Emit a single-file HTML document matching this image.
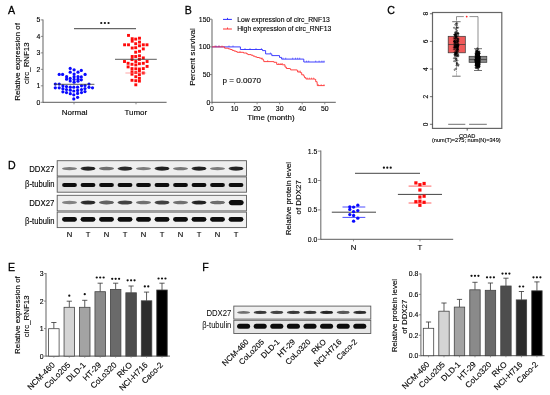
<!DOCTYPE html>
<html><head><meta charset="utf-8"><style>
html,body{margin:0;padding:0;background:#fff;}
svg{display:block;font-family:"Liberation Sans", sans-serif;filter:blur(0.3px);}
</style></head><body>
<svg width="550" height="395" viewBox="0 0 550 395">
<rect width="550" height="395" fill="#fff"/>
<text x="0" y="0" font-size="11.8" fill="#000" stroke="#000" stroke-width="0.3" transform="translate(8.0,13.9) scale(0.9,1)">A</text>
<text x="0" y="0" font-size="11.8" fill="#000" stroke="#000" stroke-width="0.3" transform="translate(184.8,13.9) scale(0.9,1)">B</text>
<text x="0" y="0" font-size="11.8" fill="#000" stroke="#000" stroke-width="0.3" transform="translate(387.3,14.1) scale(0.9,1)">C</text>
<text x="0" y="0" font-size="11.8" fill="#000" stroke="#000" stroke-width="0.3" transform="translate(8.1,168.7) scale(0.9,1)">D</text>
<text x="0" y="0" font-size="11.8" fill="#000" stroke="#000" stroke-width="0.3" transform="translate(8.1,270.7) scale(0.9,1)">E</text>
<text x="0" y="0" font-size="11.8" fill="#000" stroke="#000" stroke-width="0.3" transform="translate(202.3,270.9) scale(0.9,1)">F</text>
<line x1="43.00" y1="19.40" x2="43.00" y2="102.80" stroke="#707070" stroke-width="1.1" />
<line x1="43.00" y1="102.30" x2="166.60" y2="102.30" stroke="#4a4a4a" stroke-width="0.9" />
<line x1="40.80" y1="102.30" x2="43.00" y2="102.30" stroke="#707070" stroke-width="0.8" />
<text x="40.40" y="104.70" font-size="6.9" text-anchor="end" fill="#000" stroke="#000" stroke-width="0.12" >0</text>
<line x1="40.80" y1="85.82" x2="43.00" y2="85.82" stroke="#707070" stroke-width="0.8" />
<text x="40.40" y="88.22" font-size="6.9" text-anchor="end" fill="#000" stroke="#000" stroke-width="0.12" >1</text>
<line x1="40.80" y1="69.34" x2="43.00" y2="69.34" stroke="#707070" stroke-width="0.8" />
<text x="40.40" y="71.74" font-size="6.9" text-anchor="end" fill="#000" stroke="#000" stroke-width="0.12" >2</text>
<line x1="40.80" y1="52.86" x2="43.00" y2="52.86" stroke="#707070" stroke-width="0.8" />
<text x="40.40" y="55.26" font-size="6.9" text-anchor="end" fill="#000" stroke="#000" stroke-width="0.12" >3</text>
<line x1="40.80" y1="36.38" x2="43.00" y2="36.38" stroke="#707070" stroke-width="0.8" />
<text x="40.40" y="38.78" font-size="6.9" text-anchor="end" fill="#000" stroke="#000" stroke-width="0.12" >4</text>
<line x1="40.80" y1="19.90" x2="43.00" y2="19.90" stroke="#707070" stroke-width="0.8" />
<text x="40.40" y="22.30" font-size="6.9" text-anchor="end" fill="#000" stroke="#000" stroke-width="0.12" >5</text>
<line x1="74.00" y1="102.30" x2="74.00" y2="104.30" stroke="#707070" stroke-width="0.8" />
<line x1="136.00" y1="102.30" x2="136.00" y2="104.30" stroke="#707070" stroke-width="0.8" />
<text x="74.60" y="114.90" font-size="8" text-anchor="middle" fill="#000" stroke="#000" stroke-width="0.12" >Normal</text>
<text x="135.80" y="114.90" font-size="8" text-anchor="middle" fill="#000" stroke="#000" stroke-width="0.12" >Tumor</text>
<text x="0" y="0" font-size="7.9" text-anchor="middle" fill="#000" stroke="#000" stroke-width="0.12" transform="translate(19.70,62.00) rotate(-90)">Relative expression of</text>
<text x="0" y="0" font-size="7.9" text-anchor="middle" fill="#000" stroke="#000" stroke-width="0.12" transform="translate(28.90,63.20) rotate(-90)">circ_RNF13</text>
<line x1="74.00" y1="28.70" x2="136.00" y2="28.70" stroke="#3a3a3a" stroke-width="0.95" />
<circle cx="101.25" cy="23.00" r="1.12" fill="#111" />
<circle cx="104.90" cy="23.00" r="1.12" fill="#111" />
<circle cx="108.55" cy="23.00" r="1.12" fill="#111" />
<circle cx="70.20" cy="68.40" r="1.6" fill="#0a0aff" />
<circle cx="74.10" cy="69.80" r="1.6" fill="#0a0aff" />
<circle cx="81.30" cy="70.40" r="1.6" fill="#0a0aff" />
<circle cx="70.20" cy="72.20" r="1.6" fill="#0a0aff" />
<circle cx="78.00" cy="72.20" r="1.6" fill="#0a0aff" />
<circle cx="74.10" cy="74.10" r="1.6" fill="#0a0aff" />
<circle cx="59.20" cy="74.40" r="1.6" fill="#0a0aff" />
<circle cx="62.60" cy="74.40" r="1.6" fill="#0a0aff" />
<circle cx="85.10" cy="74.40" r="1.6" fill="#0a0aff" />
<circle cx="66.60" cy="76.70" r="1.6" fill="#0a0aff" />
<circle cx="74.10" cy="76.70" r="1.6" fill="#0a0aff" />
<circle cx="78.00" cy="76.70" r="1.6" fill="#0a0aff" />
<circle cx="81.30" cy="76.90" r="1.6" fill="#0a0aff" />
<circle cx="66.60" cy="79.20" r="1.6" fill="#0a0aff" />
<circle cx="70.20" cy="78.40" r="1.6" fill="#0a0aff" />
<circle cx="74.10" cy="79.40" r="1.6" fill="#0a0aff" />
<circle cx="78.00" cy="79.20" r="1.6" fill="#0a0aff" />
<circle cx="81.30" cy="79.80" r="1.6" fill="#0a0aff" />
<circle cx="70.20" cy="81.00" r="1.6" fill="#0a0aff" />
<circle cx="78.00" cy="81.20" r="1.6" fill="#0a0aff" />
<circle cx="74.10" cy="82.20" r="1.6" fill="#0a0aff" />
<circle cx="55.30" cy="84.10" r="1.6" fill="#0a0aff" />
<circle cx="55.30" cy="87.80" r="1.6" fill="#0a0aff" />
<circle cx="59.20" cy="84.10" r="1.6" fill="#0a0aff" />
<circle cx="59.20" cy="87.80" r="1.6" fill="#0a0aff" />
<circle cx="89.00" cy="84.10" r="1.6" fill="#0a0aff" />
<circle cx="89.00" cy="87.30" r="1.6" fill="#0a0aff" />
<circle cx="92.50" cy="87.80" r="1.6" fill="#0a0aff" />
<circle cx="62.90" cy="85.80" r="1.6" fill="#0a0aff" />
<circle cx="62.90" cy="88.70" r="1.6" fill="#0a0aff" />
<circle cx="62.90" cy="91.80" r="1.6" fill="#0a0aff" />
<circle cx="66.50" cy="86.60" r="1.6" fill="#0a0aff" />
<circle cx="66.50" cy="89.50" r="1.6" fill="#0a0aff" />
<circle cx="66.50" cy="92.60" r="1.6" fill="#0a0aff" />
<circle cx="70.30" cy="87.20" r="1.6" fill="#0a0aff" />
<circle cx="70.30" cy="90.20" r="1.6" fill="#0a0aff" />
<circle cx="70.30" cy="93.70" r="1.6" fill="#0a0aff" />
<circle cx="73.80" cy="87.20" r="1.6" fill="#0a0aff" />
<circle cx="73.80" cy="91.00" r="1.6" fill="#0a0aff" />
<circle cx="73.80" cy="94.80" r="1.6" fill="#0a0aff" />
<circle cx="73.80" cy="98.90" r="1.6" fill="#0a0aff" />
<circle cx="77.60" cy="87.20" r="1.6" fill="#0a0aff" />
<circle cx="77.60" cy="90.40" r="1.6" fill="#0a0aff" />
<circle cx="77.60" cy="93.40" r="1.6" fill="#0a0aff" />
<circle cx="77.60" cy="97.30" r="1.6" fill="#0a0aff" />
<circle cx="81.50" cy="85.80" r="1.6" fill="#0a0aff" />
<circle cx="81.50" cy="89.60" r="1.6" fill="#0a0aff" />
<circle cx="81.50" cy="92.60" r="1.6" fill="#0a0aff" />
<circle cx="85.00" cy="85.50" r="1.6" fill="#0a0aff" />
<circle cx="85.00" cy="88.60" r="1.6" fill="#0a0aff" />
<circle cx="85.00" cy="91.60" r="1.6" fill="#0a0aff" />
<line x1="54.00" y1="84.30" x2="94.40" y2="84.30" stroke="#333" stroke-width="0.8" />
<rect x="127.05" y="33.95" width="2.90" height="2.90" fill="#ff0a0a" stroke="none" stroke-width="0.8" />
<rect x="130.75" y="37.25" width="2.90" height="2.90" fill="#ff0a0a" stroke="none" stroke-width="0.8" />
<rect x="134.25" y="37.65" width="2.90" height="2.90" fill="#ff0a0a" stroke="none" stroke-width="0.8" />
<rect x="138.05" y="36.75" width="2.90" height="2.90" fill="#ff0a0a" stroke="none" stroke-width="0.8" />
<rect x="130.75" y="39.75" width="2.90" height="2.90" fill="#ff0a0a" stroke="none" stroke-width="0.8" />
<rect x="138.05" y="40.65" width="2.90" height="2.90" fill="#ff0a0a" stroke="none" stroke-width="0.8" />
<rect x="123.15" y="43.35" width="2.90" height="2.90" fill="#ff0a0a" stroke="none" stroke-width="0.8" />
<rect x="127.05" y="43.35" width="2.90" height="2.90" fill="#ff0a0a" stroke="none" stroke-width="0.8" />
<rect x="134.25" y="42.25" width="2.90" height="2.90" fill="#ff0a0a" stroke="none" stroke-width="0.8" />
<rect x="138.05" y="44.35" width="2.90" height="2.90" fill="#ff0a0a" stroke="none" stroke-width="0.8" />
<rect x="141.85" y="43.35" width="2.90" height="2.90" fill="#ff0a0a" stroke="none" stroke-width="0.8" />
<rect x="145.55" y="43.35" width="2.90" height="2.90" fill="#ff0a0a" stroke="none" stroke-width="0.8" />
<rect x="130.75" y="46.55" width="2.90" height="2.90" fill="#ff0a0a" stroke="none" stroke-width="0.8" />
<rect x="134.25" y="46.25" width="2.90" height="2.90" fill="#ff0a0a" stroke="none" stroke-width="0.8" />
<rect x="141.85" y="47.45" width="2.90" height="2.90" fill="#ff0a0a" stroke="none" stroke-width="0.8" />
<rect x="134.25" y="50.75" width="2.90" height="2.90" fill="#ff0a0a" stroke="none" stroke-width="0.8" />
<rect x="138.05" y="49.85" width="2.90" height="2.90" fill="#ff0a0a" stroke="none" stroke-width="0.8" />
<rect x="130.75" y="55.05" width="2.90" height="2.90" fill="#ff0a0a" stroke="none" stroke-width="0.8" />
<rect x="134.25" y="55.05" width="2.90" height="2.90" fill="#ff0a0a" stroke="none" stroke-width="0.8" />
<rect x="138.05" y="54.35" width="2.90" height="2.90" fill="#ff0a0a" stroke="none" stroke-width="0.8" />
<rect x="141.85" y="56.45" width="2.90" height="2.90" fill="#ff0a0a" stroke="none" stroke-width="0.8" />
<rect x="130.55" y="58.15" width="2.90" height="2.90" fill="#ff0a0a" stroke="none" stroke-width="0.8" />
<rect x="137.95" y="57.95" width="2.90" height="2.90" fill="#ff0a0a" stroke="none" stroke-width="0.8" />
<rect x="123.05" y="60.05" width="2.90" height="2.90" fill="#ff0a0a" stroke="none" stroke-width="0.8" />
<rect x="134.35" y="60.05" width="2.90" height="2.90" fill="#ff0a0a" stroke="none" stroke-width="0.8" />
<rect x="145.65" y="60.05" width="2.90" height="2.90" fill="#ff0a0a" stroke="none" stroke-width="0.8" />
<rect x="126.65" y="61.85" width="2.90" height="2.90" fill="#ff0a0a" stroke="none" stroke-width="0.8" />
<rect x="137.95" y="62.25" width="2.90" height="2.90" fill="#ff0a0a" stroke="none" stroke-width="0.8" />
<rect x="141.85" y="61.85" width="2.90" height="2.90" fill="#ff0a0a" stroke="none" stroke-width="0.8" />
<rect x="130.55" y="62.85" width="2.90" height="2.90" fill="#ff0a0a" stroke="none" stroke-width="0.8" />
<rect x="134.35" y="63.45" width="2.90" height="2.90" fill="#ff0a0a" stroke="none" stroke-width="0.8" />
<rect x="126.65" y="65.45" width="2.90" height="2.90" fill="#ff0a0a" stroke="none" stroke-width="0.8" />
<rect x="145.65" y="64.95" width="2.90" height="2.90" fill="#ff0a0a" stroke="none" stroke-width="0.8" />
<rect x="130.55" y="67.15" width="2.90" height="2.90" fill="#ff0a0a" stroke="none" stroke-width="0.8" />
<rect x="134.35" y="67.35" width="2.90" height="2.90" fill="#ff0a0a" stroke="none" stroke-width="0.8" />
<rect x="137.95" y="67.55" width="2.90" height="2.90" fill="#ff0a0a" stroke="none" stroke-width="0.8" />
<rect x="141.85" y="67.15" width="2.90" height="2.90" fill="#ff0a0a" stroke="none" stroke-width="0.8" />
<rect x="130.55" y="70.35" width="2.90" height="2.90" fill="#ff0a0a" stroke="none" stroke-width="0.8" />
<rect x="134.35" y="71.15" width="2.90" height="2.90" fill="#ff0a0a" stroke="none" stroke-width="0.8" />
<rect x="137.95" y="69.55" width="2.90" height="2.90" fill="#ff0a0a" stroke="none" stroke-width="0.8" />
<rect x="141.85" y="71.55" width="2.90" height="2.90" fill="#ff0a0a" stroke="none" stroke-width="0.8" />
<rect x="130.55" y="72.75" width="2.90" height="2.90" fill="#ff0a0a" stroke="none" stroke-width="0.8" />
<rect x="137.95" y="73.15" width="2.90" height="2.90" fill="#ff0a0a" stroke="none" stroke-width="0.8" />
<rect x="134.35" y="75.25" width="2.90" height="2.90" fill="#ff0a0a" stroke="none" stroke-width="0.8" />
<rect x="137.95" y="76.85" width="2.90" height="2.90" fill="#ff0a0a" stroke="none" stroke-width="0.8" />
<rect x="130.55" y="78.85" width="2.90" height="2.90" fill="#ff0a0a" stroke="none" stroke-width="0.8" />
<rect x="134.35" y="79.25" width="2.90" height="2.90" fill="#ff0a0a" stroke="none" stroke-width="0.8" />
<rect x="137.95" y="79.65" width="2.90" height="2.90" fill="#ff0a0a" stroke="none" stroke-width="0.8" />
<rect x="134.35" y="83.35" width="2.90" height="2.90" fill="#ff0a0a" stroke="none" stroke-width="0.8" />
<line x1="115.00" y1="59.30" x2="156.80" y2="59.30" stroke="#333" stroke-width="0.8" />
<line x1="125.40" y1="73.00" x2="146.20" y2="73.00" stroke="#ff8080" stroke-width="0.7" />
<line x1="212.00" y1="19.20" x2="212.00" y2="102.80" stroke="#707070" stroke-width="1.1" />
<line x1="212.00" y1="102.30" x2="335.80" y2="102.30" stroke="#4a4a4a" stroke-width="0.9" />
<line x1="209.80" y1="102.30" x2="212.00" y2="102.30" stroke="#707070" stroke-width="0.8" />
<text x="210.30" y="104.70" font-size="6.9" text-anchor="end" fill="#000" stroke="#000" stroke-width="0.12" >0</text>
<line x1="209.80" y1="74.60" x2="212.00" y2="74.60" stroke="#707070" stroke-width="0.8" />
<text x="210.30" y="77.00" font-size="6.9" text-anchor="end" fill="#000" stroke="#000" stroke-width="0.12" >50</text>
<line x1="209.80" y1="46.90" x2="212.00" y2="46.90" stroke="#707070" stroke-width="0.8" />
<text x="210.30" y="49.30" font-size="6.9" text-anchor="end" fill="#000" stroke="#000" stroke-width="0.12" >100</text>
<line x1="209.80" y1="19.20" x2="212.00" y2="19.20" stroke="#707070" stroke-width="0.8" />
<text x="210.30" y="21.60" font-size="6.9" text-anchor="end" fill="#000" stroke="#000" stroke-width="0.12" >150</text>
<line x1="212.00" y1="102.30" x2="212.00" y2="104.30" stroke="#707070" stroke-width="0.8" />
<text x="212.00" y="110.60" font-size="6.9" text-anchor="middle" fill="#000" stroke="#000" stroke-width="0.12" >0</text>
<line x1="234.55" y1="102.30" x2="234.55" y2="104.30" stroke="#707070" stroke-width="0.8" />
<text x="234.55" y="110.60" font-size="6.9" text-anchor="middle" fill="#000" stroke="#000" stroke-width="0.12" >10</text>
<line x1="257.10" y1="102.30" x2="257.10" y2="104.30" stroke="#707070" stroke-width="0.8" />
<text x="257.10" y="110.60" font-size="6.9" text-anchor="middle" fill="#000" stroke="#000" stroke-width="0.12" >20</text>
<line x1="279.65" y1="102.30" x2="279.65" y2="104.30" stroke="#707070" stroke-width="0.8" />
<text x="279.65" y="110.60" font-size="6.9" text-anchor="middle" fill="#000" stroke="#000" stroke-width="0.12" >30</text>
<line x1="302.20" y1="102.30" x2="302.20" y2="104.30" stroke="#707070" stroke-width="0.8" />
<text x="302.20" y="110.60" font-size="6.9" text-anchor="middle" fill="#000" stroke="#000" stroke-width="0.12" >40</text>
<line x1="324.75" y1="102.30" x2="324.75" y2="104.30" stroke="#707070" stroke-width="0.8" />
<text x="324.75" y="110.60" font-size="6.9" text-anchor="middle" fill="#000" stroke="#000" stroke-width="0.12" >50</text>
<text x="271.00" y="119.50" font-size="8" text-anchor="middle" fill="#000" stroke="#000" stroke-width="0.12" >Time (month)</text>
<text x="0" y="0" font-size="8.1" text-anchor="middle" fill="#000" stroke="#000" stroke-width="0.12" transform="translate(194.90,57.00) rotate(-90)">Percent survival</text>
<line x1="223.00" y1="19.40" x2="231.90" y2="19.40" stroke="#2a2aff" stroke-width="1.0" />
<line x1="227.50" y1="17.90" x2="227.50" y2="19.40" stroke="#2a2aff" stroke-width="0.9" />
<line x1="223.00" y1="29.00" x2="231.90" y2="29.00" stroke="#ff3030" stroke-width="1.0" />
<line x1="227.50" y1="27.50" x2="227.50" y2="29.00" stroke="#ff3030" stroke-width="0.9" />
<text x="237.20" y="21.80" font-size="6.8" text-anchor="start" fill="#000" stroke="#000" stroke-width="0.12" >Low expression of circ_RNF13</text>
<text x="237.20" y="30.50" font-size="6.8" text-anchor="start" fill="#000" stroke="#000" stroke-width="0.12" >High expression of circ_RNF13</text>
<text x="222.60" y="82.80" font-size="8.1" text-anchor="start" fill="#000" stroke="#000" stroke-width="0.12" >p = 0.0070</text>
<path d="M212,46.9 H240.4 V49.5 H262.5 V50.6 H265.6 V53.9 H271.8 V55.6 H279.5 V57.4 H281.6 V59.1 H303.8 V62 H324.7" fill="none" stroke="#2a2aff" stroke-width="0.9"/>
<path d="M212,46.9 H224.6 V48.2 H228.4 V48.9 H230.3 V49.5 H232.2 V50.4 H234.1 V51.1 H236 V51.6 H237.2 V52.3 H243.5 V53 H246.7 V53.9 H248 V54.6 H251.1 V55.2 H253 V56.1 H254.9 V56.8 H256.8 V57.5 H259.4 V58.1 H261.3 V59 H263.2 V60.3 H263.8 V61.6 H273.9 V62.3 H276.7 V64.4 H282.3 V64.8 H285 V67.1 H286.4 V68.5 H289.9 V68.8 H290.6 V69.9 H296.9 V70.3 H297.6 V72 H300.4 V72.7 H301.7 V74.8 H303.8 V76.2 H304.5 V77.6 H305.9 V79 H315 V79.4 H315.7 V81.7 H317.1 V83.8 H317.3 V85.6 H324.7" fill="none" stroke="#ff3030" stroke-width="0.9"/>
<line x1="216.00" y1="45.50" x2="216.00" y2="46.90" stroke="#2a2aff" stroke-width="0.6" />
<line x1="219.00" y1="45.50" x2="219.00" y2="46.90" stroke="#2a2aff" stroke-width="0.6" />
<line x1="229.00" y1="45.50" x2="229.00" y2="46.90" stroke="#2a2aff" stroke-width="0.6" />
<line x1="233.00" y1="45.50" x2="233.00" y2="46.90" stroke="#2a2aff" stroke-width="0.6" />
<line x1="245.00" y1="48.10" x2="245.00" y2="49.50" stroke="#2a2aff" stroke-width="0.6" />
<line x1="250.00" y1="48.10" x2="250.00" y2="49.50" stroke="#2a2aff" stroke-width="0.6" />
<line x1="256.00" y1="48.10" x2="256.00" y2="49.50" stroke="#2a2aff" stroke-width="0.6" />
<line x1="261.40" y1="48.10" x2="261.40" y2="49.50" stroke="#2a2aff" stroke-width="0.6" />
<line x1="270.40" y1="52.50" x2="270.40" y2="53.90" stroke="#2a2aff" stroke-width="0.6" />
<line x1="283.00" y1="57.70" x2="283.00" y2="59.10" stroke="#2a2aff" stroke-width="0.6" />
<line x1="285.70" y1="57.70" x2="285.70" y2="59.10" stroke="#2a2aff" stroke-width="0.6" />
<line x1="292.70" y1="57.70" x2="292.70" y2="59.10" stroke="#2a2aff" stroke-width="0.6" />
<line x1="295.50" y1="57.70" x2="295.50" y2="59.10" stroke="#2a2aff" stroke-width="0.6" />
<line x1="297.60" y1="57.70" x2="297.60" y2="59.10" stroke="#2a2aff" stroke-width="0.6" />
<line x1="299.70" y1="57.70" x2="299.70" y2="59.10" stroke="#2a2aff" stroke-width="0.6" />
<line x1="306.60" y1="60.60" x2="306.60" y2="62.00" stroke="#2a2aff" stroke-width="0.6" />
<line x1="308.70" y1="60.60" x2="308.70" y2="62.00" stroke="#2a2aff" stroke-width="0.6" />
<line x1="315.70" y1="60.60" x2="315.70" y2="62.00" stroke="#2a2aff" stroke-width="0.6" />
<line x1="319.10" y1="60.60" x2="319.10" y2="62.00" stroke="#2a2aff" stroke-width="0.6" />
<line x1="321.90" y1="60.60" x2="321.90" y2="62.00" stroke="#2a2aff" stroke-width="0.6" />
<line x1="324.00" y1="60.60" x2="324.00" y2="62.00" stroke="#2a2aff" stroke-width="0.6" />
<line x1="215.00" y1="45.50" x2="215.00" y2="46.90" stroke="#ff3030" stroke-width="0.6" />
<line x1="219.00" y1="45.50" x2="219.00" y2="46.90" stroke="#ff3030" stroke-width="0.6" />
<line x1="222.00" y1="45.50" x2="222.00" y2="46.90" stroke="#ff3030" stroke-width="0.6" />
<line x1="240.00" y1="50.90" x2="240.00" y2="52.30" stroke="#ff3030" stroke-width="0.6" />
<line x1="262.10" y1="57.60" x2="262.10" y2="59.00" stroke="#ff3030" stroke-width="0.6" />
<line x1="267.70" y1="60.20" x2="267.70" y2="61.60" stroke="#ff3030" stroke-width="0.6" />
<line x1="278.80" y1="63.00" x2="278.80" y2="64.40" stroke="#ff3030" stroke-width="0.6" />
<line x1="280.90" y1="63.00" x2="280.90" y2="64.40" stroke="#ff3030" stroke-width="0.6" />
<line x1="282.30" y1="63.00" x2="282.30" y2="64.40" stroke="#ff3030" stroke-width="0.6" />
<line x1="299.00" y1="70.60" x2="299.00" y2="72.00" stroke="#ff3030" stroke-width="0.6" />
<line x1="300.40" y1="70.60" x2="300.40" y2="72.00" stroke="#ff3030" stroke-width="0.6" />
<line x1="307.30" y1="77.60" x2="307.30" y2="79.00" stroke="#ff3030" stroke-width="0.6" />
<line x1="309.40" y1="77.60" x2="309.40" y2="79.00" stroke="#ff3030" stroke-width="0.6" />
<line x1="311.50" y1="77.60" x2="311.50" y2="79.00" stroke="#ff3030" stroke-width="0.6" />
<line x1="313.60" y1="77.60" x2="313.60" y2="79.00" stroke="#ff3030" stroke-width="0.6" />
<line x1="318.40" y1="84.20" x2="318.40" y2="85.60" stroke="#ff3030" stroke-width="0.6" />
<line x1="321.20" y1="84.20" x2="321.20" y2="85.60" stroke="#ff3030" stroke-width="0.6" />
<line x1="324.00" y1="84.20" x2="324.00" y2="85.60" stroke="#ff3030" stroke-width="0.6" />
<rect x="432.50" y="12.50" width="69.30" height="115.90" fill="none" stroke="#666" stroke-width="1.2" />
<line x1="429.90" y1="124.30" x2="432.50" y2="124.30" stroke="#333" stroke-width="0.7" />
<text x="0" y="0" font-size="6.7" text-anchor="middle" fill="#000" stroke="#000" stroke-width="0.12" transform="translate(427.90,124.30) rotate(-90)">0</text>
<line x1="429.90" y1="96.66" x2="432.50" y2="96.66" stroke="#333" stroke-width="0.7" />
<text x="0" y="0" font-size="6.7" text-anchor="middle" fill="#000" stroke="#000" stroke-width="0.12" transform="translate(427.90,96.66) rotate(-90)">2</text>
<line x1="429.90" y1="69.02" x2="432.50" y2="69.02" stroke="#333" stroke-width="0.7" />
<text x="0" y="0" font-size="6.7" text-anchor="middle" fill="#000" stroke="#000" stroke-width="0.12" transform="translate(427.90,69.02) rotate(-90)">4</text>
<line x1="429.90" y1="41.38" x2="432.50" y2="41.38" stroke="#333" stroke-width="0.7" />
<text x="0" y="0" font-size="6.7" text-anchor="middle" fill="#000" stroke="#000" stroke-width="0.12" transform="translate(427.90,41.38) rotate(-90)">6</text>
<line x1="429.90" y1="13.74" x2="432.50" y2="13.74" stroke="#333" stroke-width="0.7" />
<text x="0" y="0" font-size="6.7" text-anchor="middle" fill="#000" stroke="#000" stroke-width="0.12" transform="translate(427.90,13.74) rotate(-90)">8</text>
<rect x="448.20" y="36.30" width="17.10" height="16.50" fill="#f05a5a" stroke="#333" stroke-width="0.7" />
<line x1="448.20" y1="44.50" x2="465.30" y2="44.50" stroke="#333" stroke-width="0.7" />
<line x1="456.50" y1="21.70" x2="456.50" y2="36.30" stroke="#333" stroke-width="0.5" stroke-dasharray="1,0.8"/>
<line x1="456.50" y1="52.80" x2="456.50" y2="76.20" stroke="#333" stroke-width="0.5" stroke-dasharray="1,0.8"/>
<line x1="452.20" y1="21.70" x2="460.60" y2="21.70" stroke="#333" stroke-width="0.7" />
<line x1="452.20" y1="76.20" x2="460.60" y2="76.20" stroke="#333" stroke-width="0.7" />
<rect x="469.10" y="56.30" width="17.70" height="6.00" fill="#888" stroke="#333" stroke-width="0.7" />
<line x1="469.10" y1="59.50" x2="486.80" y2="59.50" stroke="#333" stroke-width="0.7" />
<line x1="478.00" y1="48.70" x2="478.00" y2="56.30" stroke="#333" stroke-width="0.5" stroke-dasharray="1,0.8"/>
<line x1="478.00" y1="62.30" x2="478.00" y2="70.50" stroke="#333" stroke-width="0.5" stroke-dasharray="1,0.8"/>
<line x1="474.00" y1="48.70" x2="482.00" y2="48.70" stroke="#333" stroke-width="0.7" />
<line x1="474.00" y1="70.50" x2="482.00" y2="70.50" stroke="#333" stroke-width="0.7" />
<circle cx="455.60" cy="43.85" r="0.65" fill="none" stroke="#000" stroke-width="0.5"/>
<circle cx="456.68" cy="31.88" r="0.65" fill="none" stroke="#000" stroke-width="0.5"/>
<circle cx="453.96" cy="47.52" r="0.65" fill="none" stroke="#000" stroke-width="0.5"/>
<circle cx="457.75" cy="47.55" r="0.65" fill="none" stroke="#000" stroke-width="0.5"/>
<circle cx="458.48" cy="45.28" r="0.65" fill="none" stroke="#000" stroke-width="0.5"/>
<circle cx="456.06" cy="37.27" r="0.65" fill="none" stroke="#000" stroke-width="0.5"/>
<circle cx="456.84" cy="38.74" r="0.65" fill="none" stroke="#000" stroke-width="0.5"/>
<circle cx="454.59" cy="54.93" r="0.65" fill="none" stroke="#000" stroke-width="0.5"/>
<circle cx="456.31" cy="58.64" r="0.65" fill="none" stroke="#000" stroke-width="0.5"/>
<circle cx="457.31" cy="60.47" r="0.65" fill="none" stroke="#000" stroke-width="0.5"/>
<circle cx="457.39" cy="46.62" r="0.65" fill="none" stroke="#000" stroke-width="0.5"/>
<circle cx="456.62" cy="48.16" r="0.65" fill="none" stroke="#000" stroke-width="0.5"/>
<circle cx="457.88" cy="45.66" r="0.65" fill="none" stroke="#000" stroke-width="0.5"/>
<circle cx="456.07" cy="42.37" r="0.65" fill="none" stroke="#000" stroke-width="0.5"/>
<circle cx="457.18" cy="48.98" r="0.65" fill="none" stroke="#000" stroke-width="0.5"/>
<circle cx="458.14" cy="65.72" r="0.65" fill="none" stroke="#000" stroke-width="0.5"/>
<circle cx="455.95" cy="59.55" r="0.65" fill="none" stroke="#000" stroke-width="0.5"/>
<circle cx="458.20" cy="33.42" r="0.65" fill="none" stroke="#000" stroke-width="0.5"/>
<circle cx="454.53" cy="41.44" r="0.65" fill="none" stroke="#000" stroke-width="0.5"/>
<circle cx="454.90" cy="48.07" r="0.65" fill="none" stroke="#000" stroke-width="0.5"/>
<circle cx="456.78" cy="34.00" r="0.65" fill="none" stroke="#000" stroke-width="0.5"/>
<circle cx="455.28" cy="47.22" r="0.65" fill="none" stroke="#000" stroke-width="0.5"/>
<circle cx="455.51" cy="55.06" r="0.65" fill="none" stroke="#000" stroke-width="0.5"/>
<circle cx="456.59" cy="45.30" r="0.65" fill="none" stroke="#000" stroke-width="0.5"/>
<circle cx="457.04" cy="64.21" r="0.65" fill="none" stroke="#000" stroke-width="0.5"/>
<circle cx="458.17" cy="56.17" r="0.65" fill="none" stroke="#000" stroke-width="0.5"/>
<circle cx="456.99" cy="25.12" r="0.65" fill="none" stroke="#000" stroke-width="0.5"/>
<circle cx="454.65" cy="69.80" r="0.65" fill="none" stroke="#000" stroke-width="0.5"/>
<circle cx="458.06" cy="27.67" r="0.65" fill="none" stroke="#000" stroke-width="0.5"/>
<circle cx="456.52" cy="65.41" r="0.65" fill="none" stroke="#000" stroke-width="0.5"/>
<circle cx="457.73" cy="46.44" r="0.65" fill="none" stroke="#000" stroke-width="0.5"/>
<circle cx="456.54" cy="51.79" r="0.65" fill="none" stroke="#000" stroke-width="0.5"/>
<circle cx="457.83" cy="45.65" r="0.65" fill="none" stroke="#000" stroke-width="0.5"/>
<circle cx="458.45" cy="41.17" r="0.65" fill="none" stroke="#000" stroke-width="0.5"/>
<circle cx="455.79" cy="29.03" r="0.65" fill="none" stroke="#000" stroke-width="0.5"/>
<circle cx="454.59" cy="35.01" r="0.65" fill="none" stroke="#000" stroke-width="0.5"/>
<circle cx="457.91" cy="49.67" r="0.65" fill="none" stroke="#000" stroke-width="0.5"/>
<circle cx="454.10" cy="27.77" r="0.65" fill="none" stroke="#000" stroke-width="0.5"/>
<circle cx="457.20" cy="47.20" r="0.65" fill="none" stroke="#000" stroke-width="0.5"/>
<circle cx="455.42" cy="46.91" r="0.65" fill="none" stroke="#000" stroke-width="0.5"/>
<circle cx="456.22" cy="23.50" r="0.65" fill="none" stroke="#000" stroke-width="0.5"/>
<circle cx="458.49" cy="64.64" r="0.65" fill="none" stroke="#000" stroke-width="0.5"/>
<circle cx="456.66" cy="46.35" r="0.65" fill="none" stroke="#000" stroke-width="0.5"/>
<circle cx="454.04" cy="40.97" r="0.65" fill="none" stroke="#000" stroke-width="0.5"/>
<circle cx="456.71" cy="41.39" r="0.65" fill="none" stroke="#000" stroke-width="0.5"/>
<circle cx="454.62" cy="34.80" r="0.65" fill="none" stroke="#000" stroke-width="0.5"/>
<circle cx="455.34" cy="24.72" r="0.65" fill="none" stroke="#000" stroke-width="0.5"/>
<circle cx="458.31" cy="39.34" r="0.65" fill="none" stroke="#000" stroke-width="0.5"/>
<circle cx="456.02" cy="36.79" r="0.65" fill="none" stroke="#000" stroke-width="0.5"/>
<circle cx="456.29" cy="50.94" r="0.65" fill="none" stroke="#000" stroke-width="0.5"/>
<circle cx="456.47" cy="53.46" r="0.65" fill="none" stroke="#000" stroke-width="0.5"/>
<circle cx="456.75" cy="55.80" r="0.65" fill="none" stroke="#000" stroke-width="0.5"/>
<circle cx="455.88" cy="33.36" r="0.65" fill="none" stroke="#000" stroke-width="0.5"/>
<circle cx="457.21" cy="49.33" r="0.65" fill="none" stroke="#000" stroke-width="0.5"/>
<circle cx="458.40" cy="44.15" r="0.65" fill="none" stroke="#000" stroke-width="0.5"/>
<circle cx="456.30" cy="36.09" r="0.65" fill="none" stroke="#000" stroke-width="0.5"/>
<circle cx="455.81" cy="46.34" r="0.65" fill="none" stroke="#000" stroke-width="0.5"/>
<circle cx="456.57" cy="45.31" r="0.65" fill="none" stroke="#000" stroke-width="0.5"/>
<circle cx="456.81" cy="30.61" r="0.65" fill="none" stroke="#000" stroke-width="0.5"/>
<circle cx="454.18" cy="43.03" r="0.65" fill="none" stroke="#000" stroke-width="0.5"/>
<circle cx="457.02" cy="52.93" r="0.65" fill="none" stroke="#000" stroke-width="0.5"/>
<circle cx="455.52" cy="53.17" r="0.65" fill="none" stroke="#000" stroke-width="0.5"/>
<circle cx="454.00" cy="49.37" r="0.65" fill="none" stroke="#000" stroke-width="0.5"/>
<circle cx="454.18" cy="61.18" r="0.65" fill="none" stroke="#000" stroke-width="0.5"/>
<circle cx="455.06" cy="56.78" r="0.65" fill="none" stroke="#000" stroke-width="0.5"/>
<circle cx="456.00" cy="68.66" r="0.65" fill="none" stroke="#000" stroke-width="0.5"/>
<circle cx="455.57" cy="52.44" r="0.65" fill="none" stroke="#000" stroke-width="0.5"/>
<circle cx="455.34" cy="49.84" r="0.65" fill="none" stroke="#000" stroke-width="0.5"/>
<circle cx="455.28" cy="54.33" r="0.65" fill="none" stroke="#000" stroke-width="0.5"/>
<circle cx="455.63" cy="34.62" r="0.65" fill="none" stroke="#000" stroke-width="0.5"/>
<circle cx="456.52" cy="44.50" r="0.65" fill="none" stroke="#000" stroke-width="0.5"/>
<circle cx="457.28" cy="47.23" r="0.65" fill="none" stroke="#000" stroke-width="0.5"/>
<circle cx="457.60" cy="47.54" r="0.65" fill="none" stroke="#000" stroke-width="0.5"/>
<circle cx="455.00" cy="38.00" r="0.65" fill="none" stroke="#000" stroke-width="0.5"/>
<circle cx="457.11" cy="40.59" r="0.65" fill="none" stroke="#000" stroke-width="0.5"/>
<circle cx="454.37" cy="34.60" r="0.65" fill="none" stroke="#000" stroke-width="0.5"/>
<circle cx="457.73" cy="48.92" r="0.65" fill="none" stroke="#000" stroke-width="0.5"/>
<circle cx="455.92" cy="36.43" r="0.65" fill="none" stroke="#000" stroke-width="0.5"/>
<circle cx="455.45" cy="40.95" r="0.65" fill="none" stroke="#000" stroke-width="0.5"/>
<circle cx="456.89" cy="49.81" r="0.65" fill="none" stroke="#000" stroke-width="0.5"/>
<circle cx="454.94" cy="36.32" r="0.65" fill="none" stroke="#000" stroke-width="0.5"/>
<circle cx="454.46" cy="52.35" r="0.65" fill="none" stroke="#000" stroke-width="0.5"/>
<circle cx="457.61" cy="51.46" r="0.65" fill="none" stroke="#000" stroke-width="0.5"/>
<circle cx="457.76" cy="46.08" r="0.65" fill="none" stroke="#000" stroke-width="0.5"/>
<circle cx="457.61" cy="41.44" r="0.65" fill="none" stroke="#000" stroke-width="0.5"/>
<circle cx="456.85" cy="37.18" r="0.65" fill="none" stroke="#000" stroke-width="0.5"/>
<circle cx="454.50" cy="41.53" r="0.65" fill="none" stroke="#000" stroke-width="0.5"/>
<circle cx="455.24" cy="53.78" r="0.65" fill="none" stroke="#000" stroke-width="0.5"/>
<circle cx="455.49" cy="42.59" r="0.65" fill="none" stroke="#000" stroke-width="0.5"/>
<circle cx="455.82" cy="52.77" r="0.65" fill="none" stroke="#000" stroke-width="0.5"/>
<circle cx="458.13" cy="54.15" r="0.65" fill="none" stroke="#000" stroke-width="0.5"/>
<circle cx="454.62" cy="39.70" r="0.65" fill="none" stroke="#000" stroke-width="0.5"/>
<circle cx="457.95" cy="44.11" r="0.65" fill="none" stroke="#000" stroke-width="0.5"/>
<circle cx="458.27" cy="33.81" r="0.65" fill="none" stroke="#000" stroke-width="0.5"/>
<circle cx="458.17" cy="45.74" r="0.65" fill="none" stroke="#000" stroke-width="0.5"/>
<circle cx="457.75" cy="41.84" r="0.65" fill="none" stroke="#000" stroke-width="0.5"/>
<circle cx="456.95" cy="27.95" r="0.65" fill="none" stroke="#000" stroke-width="0.5"/>
<circle cx="455.47" cy="53.34" r="0.65" fill="none" stroke="#000" stroke-width="0.5"/>
<circle cx="454.95" cy="45.86" r="0.65" fill="none" stroke="#000" stroke-width="0.5"/>
<circle cx="455.22" cy="32.26" r="0.65" fill="none" stroke="#000" stroke-width="0.5"/>
<circle cx="457.63" cy="39.10" r="0.65" fill="none" stroke="#000" stroke-width="0.5"/>
<circle cx="457.09" cy="23.31" r="0.65" fill="none" stroke="#000" stroke-width="0.5"/>
<circle cx="458.15" cy="38.57" r="0.65" fill="none" stroke="#000" stroke-width="0.5"/>
<circle cx="456.55" cy="27.14" r="0.65" fill="none" stroke="#000" stroke-width="0.5"/>
<circle cx="453.96" cy="58.28" r="0.65" fill="none" stroke="#000" stroke-width="0.5"/>
<circle cx="455.28" cy="45.02" r="0.65" fill="none" stroke="#000" stroke-width="0.5"/>
<circle cx="456.95" cy="51.20" r="0.65" fill="none" stroke="#000" stroke-width="0.5"/>
<circle cx="458.22" cy="55.42" r="0.65" fill="none" stroke="#000" stroke-width="0.5"/>
<circle cx="456.72" cy="46.51" r="0.65" fill="none" stroke="#000" stroke-width="0.5"/>
<circle cx="457.86" cy="49.13" r="0.65" fill="none" stroke="#000" stroke-width="0.5"/>
<circle cx="456.10" cy="38.20" r="0.65" fill="none" stroke="#000" stroke-width="0.5"/>
<circle cx="454.81" cy="42.89" r="0.65" fill="none" stroke="#000" stroke-width="0.5"/>
<circle cx="456.36" cy="54.29" r="0.65" fill="none" stroke="#000" stroke-width="0.5"/>
<circle cx="457.54" cy="42.25" r="0.65" fill="none" stroke="#000" stroke-width="0.5"/>
<circle cx="458.14" cy="50.64" r="0.65" fill="none" stroke="#000" stroke-width="0.5"/>
<circle cx="453.93" cy="38.18" r="0.65" fill="none" stroke="#000" stroke-width="0.5"/>
<circle cx="456.79" cy="62.95" r="0.65" fill="none" stroke="#000" stroke-width="0.5"/>
<circle cx="455.15" cy="42.68" r="0.65" fill="none" stroke="#000" stroke-width="0.5"/>
<circle cx="455.14" cy="47.36" r="0.65" fill="none" stroke="#000" stroke-width="0.5"/>
<circle cx="456.08" cy="55.55" r="0.65" fill="none" stroke="#000" stroke-width="0.5"/>
<circle cx="457.47" cy="46.69" r="0.65" fill="none" stroke="#000" stroke-width="0.5"/>
<circle cx="454.48" cy="41.35" r="0.65" fill="none" stroke="#000" stroke-width="0.5"/>
<circle cx="454.47" cy="44.80" r="0.65" fill="none" stroke="#000" stroke-width="0.5"/>
<circle cx="457.83" cy="33.12" r="0.65" fill="none" stroke="#000" stroke-width="0.5"/>
<circle cx="455.35" cy="34.34" r="0.65" fill="none" stroke="#000" stroke-width="0.5"/>
<circle cx="455.35" cy="38.53" r="0.65" fill="none" stroke="#000" stroke-width="0.5"/>
<circle cx="456.60" cy="53.72" r="0.65" fill="none" stroke="#000" stroke-width="0.5"/>
<circle cx="455.56" cy="32.81" r="0.65" fill="none" stroke="#000" stroke-width="0.5"/>
<circle cx="454.47" cy="41.49" r="0.65" fill="none" stroke="#000" stroke-width="0.5"/>
<circle cx="456.46" cy="36.21" r="0.65" fill="none" stroke="#000" stroke-width="0.5"/>
<circle cx="454.27" cy="46.98" r="0.65" fill="none" stroke="#000" stroke-width="0.5"/>
<circle cx="454.72" cy="54.74" r="0.65" fill="none" stroke="#000" stroke-width="0.5"/>
<circle cx="457.50" cy="54.71" r="0.65" fill="none" stroke="#000" stroke-width="0.5"/>
<circle cx="455.65" cy="34.75" r="0.65" fill="none" stroke="#000" stroke-width="0.5"/>
<circle cx="455.89" cy="40.26" r="0.65" fill="none" stroke="#000" stroke-width="0.5"/>
<circle cx="455.61" cy="58.57" r="0.65" fill="none" stroke="#000" stroke-width="0.5"/>
<circle cx="455.83" cy="60.98" r="0.65" fill="none" stroke="#000" stroke-width="0.5"/>
<circle cx="457.09" cy="44.44" r="0.65" fill="none" stroke="#000" stroke-width="0.5"/>
<circle cx="456.36" cy="52.37" r="0.65" fill="none" stroke="#000" stroke-width="0.5"/>
<circle cx="457.10" cy="42.94" r="0.65" fill="none" stroke="#000" stroke-width="0.5"/>
<circle cx="455.86" cy="35.02" r="0.65" fill="none" stroke="#000" stroke-width="0.5"/>
<circle cx="457.95" cy="40.10" r="0.65" fill="none" stroke="#000" stroke-width="0.5"/>
<circle cx="458.03" cy="35.59" r="0.65" fill="none" stroke="#000" stroke-width="0.5"/>
<circle cx="457.54" cy="48.73" r="0.65" fill="none" stroke="#000" stroke-width="0.5"/>
<circle cx="454.47" cy="45.72" r="0.65" fill="none" stroke="#000" stroke-width="0.5"/>
<circle cx="457.64" cy="33.29" r="0.65" fill="none" stroke="#000" stroke-width="0.5"/>
<circle cx="457.55" cy="56.18" r="0.65" fill="none" stroke="#000" stroke-width="0.5"/>
<circle cx="456.97" cy="63.29" r="0.65" fill="none" stroke="#000" stroke-width="0.5"/>
<circle cx="476.01" cy="59.89" r="0.65" fill="none" stroke="#000" stroke-width="0.55"/>
<circle cx="477.95" cy="64.66" r="0.65" fill="none" stroke="#000" stroke-width="0.55"/>
<circle cx="478.70" cy="57.04" r="0.65" fill="none" stroke="#000" stroke-width="0.55"/>
<circle cx="475.78" cy="59.27" r="0.65" fill="none" stroke="#000" stroke-width="0.55"/>
<circle cx="479.12" cy="57.76" r="0.65" fill="none" stroke="#000" stroke-width="0.55"/>
<circle cx="476.32" cy="58.31" r="0.65" fill="none" stroke="#000" stroke-width="0.55"/>
<circle cx="476.09" cy="51.47" r="0.65" fill="none" stroke="#000" stroke-width="0.55"/>
<circle cx="478.98" cy="58.18" r="0.65" fill="none" stroke="#000" stroke-width="0.55"/>
<circle cx="479.41" cy="62.99" r="0.65" fill="none" stroke="#000" stroke-width="0.55"/>
<circle cx="477.92" cy="66.34" r="0.65" fill="none" stroke="#000" stroke-width="0.55"/>
<circle cx="478.67" cy="59.01" r="0.65" fill="none" stroke="#000" stroke-width="0.55"/>
<circle cx="477.65" cy="60.42" r="0.65" fill="none" stroke="#000" stroke-width="0.55"/>
<circle cx="478.60" cy="59.77" r="0.65" fill="none" stroke="#000" stroke-width="0.55"/>
<circle cx="479.34" cy="61.27" r="0.65" fill="none" stroke="#000" stroke-width="0.55"/>
<circle cx="477.86" cy="55.94" r="0.65" fill="none" stroke="#000" stroke-width="0.55"/>
<circle cx="478.91" cy="57.97" r="0.65" fill="none" stroke="#000" stroke-width="0.55"/>
<circle cx="476.60" cy="59.22" r="0.65" fill="none" stroke="#000" stroke-width="0.55"/>
<circle cx="478.06" cy="56.74" r="0.65" fill="none" stroke="#000" stroke-width="0.55"/>
<circle cx="477.07" cy="59.25" r="0.65" fill="none" stroke="#000" stroke-width="0.55"/>
<circle cx="477.19" cy="63.49" r="0.65" fill="none" stroke="#000" stroke-width="0.55"/>
<circle cx="475.93" cy="61.89" r="0.65" fill="none" stroke="#000" stroke-width="0.55"/>
<circle cx="477.60" cy="55.86" r="0.65" fill="none" stroke="#000" stroke-width="0.55"/>
<circle cx="478.59" cy="55.13" r="0.65" fill="none" stroke="#000" stroke-width="0.55"/>
<circle cx="476.24" cy="60.07" r="0.65" fill="none" stroke="#000" stroke-width="0.55"/>
<circle cx="478.30" cy="61.88" r="0.65" fill="none" stroke="#000" stroke-width="0.55"/>
<circle cx="477.67" cy="65.84" r="0.65" fill="none" stroke="#000" stroke-width="0.55"/>
<circle cx="479.19" cy="65.27" r="0.65" fill="none" stroke="#000" stroke-width="0.55"/>
<circle cx="476.20" cy="58.74" r="0.65" fill="none" stroke="#000" stroke-width="0.55"/>
<circle cx="479.27" cy="53.67" r="0.65" fill="none" stroke="#000" stroke-width="0.55"/>
<circle cx="477.67" cy="55.45" r="0.65" fill="none" stroke="#000" stroke-width="0.55"/>
<circle cx="476.34" cy="65.53" r="0.65" fill="none" stroke="#000" stroke-width="0.55"/>
<circle cx="476.67" cy="57.03" r="0.65" fill="none" stroke="#000" stroke-width="0.55"/>
<circle cx="476.86" cy="57.62" r="0.65" fill="none" stroke="#000" stroke-width="0.55"/>
<circle cx="476.53" cy="54.12" r="0.65" fill="none" stroke="#000" stroke-width="0.55"/>
<circle cx="476.78" cy="63.06" r="0.65" fill="none" stroke="#000" stroke-width="0.55"/>
<circle cx="478.42" cy="68.92" r="0.65" fill="none" stroke="#000" stroke-width="0.55"/>
<circle cx="477.94" cy="66.29" r="0.65" fill="none" stroke="#000" stroke-width="0.55"/>
<circle cx="476.67" cy="55.13" r="0.65" fill="none" stroke="#000" stroke-width="0.55"/>
<circle cx="477.52" cy="59.16" r="0.65" fill="none" stroke="#000" stroke-width="0.55"/>
<circle cx="477.13" cy="58.47" r="0.65" fill="none" stroke="#000" stroke-width="0.55"/>
<circle cx="476.89" cy="57.51" r="0.65" fill="none" stroke="#000" stroke-width="0.55"/>
<circle cx="478.70" cy="55.88" r="0.65" fill="none" stroke="#000" stroke-width="0.55"/>
<circle cx="477.52" cy="51.44" r="0.65" fill="none" stroke="#000" stroke-width="0.55"/>
<circle cx="478.00" cy="49.33" r="0.65" fill="none" stroke="#000" stroke-width="0.55"/>
<circle cx="478.89" cy="67.05" r="0.65" fill="none" stroke="#000" stroke-width="0.55"/>
<circle cx="477.83" cy="57.78" r="0.65" fill="none" stroke="#000" stroke-width="0.55"/>
<circle cx="479.03" cy="65.92" r="0.65" fill="none" stroke="#000" stroke-width="0.55"/>
<circle cx="477.20" cy="58.57" r="0.65" fill="none" stroke="#000" stroke-width="0.55"/>
<circle cx="477.47" cy="60.43" r="0.65" fill="none" stroke="#000" stroke-width="0.55"/>
<circle cx="478.47" cy="58.96" r="0.65" fill="none" stroke="#000" stroke-width="0.55"/>
<circle cx="478.30" cy="56.34" r="0.65" fill="none" stroke="#000" stroke-width="0.55"/>
<circle cx="476.57" cy="51.49" r="0.65" fill="none" stroke="#000" stroke-width="0.55"/>
<circle cx="476.36" cy="61.43" r="0.65" fill="none" stroke="#000" stroke-width="0.55"/>
<circle cx="478.42" cy="59.49" r="0.65" fill="none" stroke="#000" stroke-width="0.55"/>
<circle cx="479.03" cy="56.68" r="0.65" fill="none" stroke="#000" stroke-width="0.55"/>
<circle cx="479.06" cy="56.78" r="0.65" fill="none" stroke="#000" stroke-width="0.55"/>
<circle cx="476.85" cy="61.22" r="0.65" fill="none" stroke="#000" stroke-width="0.55"/>
<circle cx="475.94" cy="65.28" r="0.65" fill="none" stroke="#000" stroke-width="0.55"/>
<circle cx="475.97" cy="56.24" r="0.65" fill="none" stroke="#000" stroke-width="0.55"/>
<circle cx="477.03" cy="57.61" r="0.65" fill="none" stroke="#000" stroke-width="0.55"/>
<circle cx="477.92" cy="62.32" r="0.65" fill="none" stroke="#000" stroke-width="0.55"/>
<circle cx="476.94" cy="59.57" r="0.65" fill="none" stroke="#000" stroke-width="0.55"/>
<circle cx="477.34" cy="59.78" r="0.65" fill="none" stroke="#000" stroke-width="0.55"/>
<circle cx="477.94" cy="62.18" r="0.65" fill="none" stroke="#000" stroke-width="0.55"/>
<circle cx="479.42" cy="59.09" r="0.65" fill="none" stroke="#000" stroke-width="0.55"/>
<circle cx="476.08" cy="63.37" r="0.65" fill="none" stroke="#000" stroke-width="0.55"/>
<circle cx="476.70" cy="56.06" r="0.65" fill="none" stroke="#000" stroke-width="0.55"/>
<circle cx="479.15" cy="60.37" r="0.65" fill="none" stroke="#000" stroke-width="0.55"/>
<circle cx="479.24" cy="61.09" r="0.65" fill="none" stroke="#000" stroke-width="0.55"/>
<circle cx="477.10" cy="51.25" r="0.65" fill="none" stroke="#000" stroke-width="0.55"/>
<circle cx="478.69" cy="53.70" r="0.65" fill="none" stroke="#000" stroke-width="0.55"/>
<circle cx="478.30" cy="59.19" r="0.65" fill="none" stroke="#000" stroke-width="0.55"/>
<circle cx="478.22" cy="62.81" r="0.65" fill="none" stroke="#000" stroke-width="0.55"/>
<circle cx="478.62" cy="58.22" r="0.65" fill="none" stroke="#000" stroke-width="0.55"/>
<circle cx="479.45" cy="62.40" r="0.65" fill="none" stroke="#000" stroke-width="0.55"/>
<circle cx="476.05" cy="61.74" r="0.65" fill="none" stroke="#000" stroke-width="0.55"/>
<circle cx="477.58" cy="63.89" r="0.65" fill="none" stroke="#000" stroke-width="0.55"/>
<circle cx="478.31" cy="63.30" r="0.65" fill="none" stroke="#000" stroke-width="0.55"/>
<circle cx="477.87" cy="54.06" r="0.65" fill="none" stroke="#000" stroke-width="0.55"/>
<circle cx="478.12" cy="56.87" r="0.65" fill="none" stroke="#000" stroke-width="0.55"/>
<circle cx="476.32" cy="53.91" r="0.65" fill="none" stroke="#000" stroke-width="0.55"/>
<circle cx="476.09" cy="54.69" r="0.65" fill="none" stroke="#000" stroke-width="0.55"/>
<circle cx="479.33" cy="63.21" r="0.65" fill="none" stroke="#000" stroke-width="0.55"/>
<circle cx="478.48" cy="57.00" r="0.65" fill="none" stroke="#000" stroke-width="0.55"/>
<circle cx="477.99" cy="56.46" r="0.65" fill="none" stroke="#000" stroke-width="0.55"/>
<circle cx="477.43" cy="64.98" r="0.65" fill="none" stroke="#000" stroke-width="0.55"/>
<circle cx="476.85" cy="61.37" r="0.65" fill="none" stroke="#000" stroke-width="0.55"/>
<circle cx="478.46" cy="58.65" r="0.65" fill="none" stroke="#000" stroke-width="0.55"/>
<circle cx="478.62" cy="57.95" r="0.65" fill="none" stroke="#000" stroke-width="0.55"/>
<circle cx="477.04" cy="65.90" r="0.65" fill="none" stroke="#000" stroke-width="0.55"/>
<circle cx="476.66" cy="61.17" r="0.65" fill="none" stroke="#000" stroke-width="0.55"/>
<circle cx="475.77" cy="65.60" r="0.65" fill="none" stroke="#000" stroke-width="0.55"/>
<circle cx="477.62" cy="53.72" r="0.65" fill="none" stroke="#000" stroke-width="0.55"/>
<circle cx="477.02" cy="59.22" r="0.65" fill="none" stroke="#000" stroke-width="0.55"/>
<circle cx="476.93" cy="52.25" r="0.65" fill="none" stroke="#000" stroke-width="0.55"/>
<circle cx="478.69" cy="63.60" r="0.65" fill="none" stroke="#000" stroke-width="0.55"/>
<circle cx="477.01" cy="56.39" r="0.65" fill="none" stroke="#000" stroke-width="0.55"/>
<circle cx="476.68" cy="58.19" r="0.65" fill="none" stroke="#000" stroke-width="0.55"/>
<circle cx="476.00" cy="61.00" r="0.65" fill="none" stroke="#000" stroke-width="0.55"/>
<circle cx="478.51" cy="53.87" r="0.65" fill="none" stroke="#000" stroke-width="0.55"/>
<circle cx="476.34" cy="54.66" r="0.65" fill="none" stroke="#000" stroke-width="0.55"/>
<circle cx="478.57" cy="57.74" r="0.65" fill="none" stroke="#000" stroke-width="0.55"/>
<circle cx="478.86" cy="55.35" r="0.65" fill="none" stroke="#000" stroke-width="0.55"/>
<circle cx="476.19" cy="59.39" r="0.65" fill="none" stroke="#000" stroke-width="0.55"/>
<circle cx="477.19" cy="64.90" r="0.65" fill="none" stroke="#000" stroke-width="0.55"/>
<circle cx="477.87" cy="57.59" r="0.65" fill="none" stroke="#000" stroke-width="0.55"/>
<circle cx="476.41" cy="54.58" r="0.65" fill="none" stroke="#000" stroke-width="0.55"/>
<circle cx="475.72" cy="59.35" r="0.65" fill="none" stroke="#000" stroke-width="0.55"/>
<circle cx="478.81" cy="52.11" r="0.65" fill="none" stroke="#000" stroke-width="0.55"/>
<circle cx="477.13" cy="51.50" r="0.65" fill="none" stroke="#000" stroke-width="0.55"/>
<circle cx="477.81" cy="65.74" r="0.65" fill="none" stroke="#000" stroke-width="0.55"/>
<circle cx="479.51" cy="64.44" r="0.65" fill="none" stroke="#000" stroke-width="0.55"/>
<circle cx="478.35" cy="62.27" r="0.65" fill="none" stroke="#000" stroke-width="0.55"/>
<circle cx="477.54" cy="61.86" r="0.65" fill="none" stroke="#000" stroke-width="0.55"/>
<circle cx="478.01" cy="51.52" r="0.65" fill="none" stroke="#000" stroke-width="0.55"/>
<circle cx="478.68" cy="59.39" r="0.65" fill="none" stroke="#000" stroke-width="0.55"/>
<circle cx="478.25" cy="59.63" r="0.65" fill="none" stroke="#000" stroke-width="0.55"/>
<circle cx="477.44" cy="64.39" r="0.65" fill="none" stroke="#000" stroke-width="0.55"/>
<circle cx="476.37" cy="59.09" r="0.65" fill="none" stroke="#000" stroke-width="0.55"/>
<circle cx="477.60" cy="60.47" r="0.65" fill="none" stroke="#000" stroke-width="0.55"/>
<circle cx="478.18" cy="59.56" r="0.65" fill="none" stroke="#000" stroke-width="0.55"/>
<circle cx="479.44" cy="64.38" r="0.65" fill="none" stroke="#000" stroke-width="0.55"/>
<circle cx="479.17" cy="57.51" r="0.65" fill="none" stroke="#000" stroke-width="0.55"/>
<circle cx="478.09" cy="54.50" r="0.65" fill="none" stroke="#000" stroke-width="0.55"/>
<circle cx="475.80" cy="53.81" r="0.65" fill="none" stroke="#000" stroke-width="0.55"/>
<circle cx="475.91" cy="61.27" r="0.65" fill="none" stroke="#000" stroke-width="0.55"/>
<circle cx="477.76" cy="57.02" r="0.65" fill="none" stroke="#000" stroke-width="0.55"/>
<circle cx="479.08" cy="56.03" r="0.65" fill="none" stroke="#000" stroke-width="0.55"/>
<circle cx="478.38" cy="60.91" r="0.65" fill="none" stroke="#000" stroke-width="0.55"/>
<circle cx="478.00" cy="53.90" r="0.65" fill="none" stroke="#000" stroke-width="0.55"/>
<circle cx="479.31" cy="53.22" r="0.65" fill="none" stroke="#000" stroke-width="0.55"/>
<circle cx="476.97" cy="60.79" r="0.65" fill="none" stroke="#000" stroke-width="0.55"/>
<circle cx="478.83" cy="65.99" r="0.65" fill="none" stroke="#000" stroke-width="0.55"/>
<circle cx="477.35" cy="51.85" r="0.65" fill="none" stroke="#000" stroke-width="0.55"/>
<circle cx="478.63" cy="62.77" r="0.65" fill="none" stroke="#000" stroke-width="0.55"/>
<circle cx="475.77" cy="61.33" r="0.65" fill="none" stroke="#000" stroke-width="0.55"/>
<circle cx="475.91" cy="59.16" r="0.65" fill="none" stroke="#000" stroke-width="0.55"/>
<circle cx="477.59" cy="58.59" r="0.65" fill="none" stroke="#000" stroke-width="0.55"/>
<circle cx="478.40" cy="57.01" r="0.65" fill="none" stroke="#000" stroke-width="0.55"/>
<circle cx="478.20" cy="63.57" r="0.65" fill="none" stroke="#000" stroke-width="0.55"/>
<circle cx="476.82" cy="60.36" r="0.65" fill="none" stroke="#000" stroke-width="0.55"/>
<circle cx="477.21" cy="66.15" r="0.65" fill="none" stroke="#000" stroke-width="0.55"/>
<circle cx="476.32" cy="57.80" r="0.65" fill="none" stroke="#000" stroke-width="0.55"/>
<circle cx="477.07" cy="54.01" r="0.65" fill="none" stroke="#000" stroke-width="0.55"/>
<circle cx="477.08" cy="63.25" r="0.65" fill="none" stroke="#000" stroke-width="0.55"/>
<circle cx="476.50" cy="64.84" r="0.65" fill="none" stroke="#000" stroke-width="0.55"/>
<circle cx="475.61" cy="60.37" r="0.65" fill="none" stroke="#000" stroke-width="0.55"/>
<circle cx="476.17" cy="57.50" r="0.65" fill="none" stroke="#000" stroke-width="0.55"/>
<circle cx="477.44" cy="52.34" r="0.65" fill="none" stroke="#000" stroke-width="0.55"/>
<circle cx="476.28" cy="58.39" r="0.65" fill="none" stroke="#000" stroke-width="0.55"/>
<circle cx="477.21" cy="56.67" r="0.65" fill="none" stroke="#000" stroke-width="0.55"/>
<circle cx="476.04" cy="58.87" r="0.65" fill="none" stroke="#000" stroke-width="0.55"/>
<circle cx="476.27" cy="58.49" r="0.65" fill="none" stroke="#000" stroke-width="0.55"/>
<circle cx="475.69" cy="60.80" r="0.65" fill="none" stroke="#000" stroke-width="0.55"/>
<circle cx="477.39" cy="59.26" r="0.65" fill="none" stroke="#000" stroke-width="0.55"/>
<circle cx="475.80" cy="64.75" r="0.65" fill="none" stroke="#000" stroke-width="0.55"/>
<circle cx="477.21" cy="55.81" r="0.65" fill="none" stroke="#000" stroke-width="0.55"/>
<circle cx="479.46" cy="60.11" r="0.65" fill="none" stroke="#000" stroke-width="0.55"/>
<circle cx="476.48" cy="58.76" r="0.65" fill="none" stroke="#000" stroke-width="0.55"/>
<circle cx="476.26" cy="55.44" r="0.65" fill="none" stroke="#000" stroke-width="0.55"/>
<circle cx="478.09" cy="56.72" r="0.65" fill="none" stroke="#000" stroke-width="0.55"/>
<circle cx="475.81" cy="60.56" r="0.65" fill="none" stroke="#000" stroke-width="0.55"/>
<circle cx="478.51" cy="57.59" r="0.65" fill="none" stroke="#000" stroke-width="0.55"/>
<circle cx="477.46" cy="60.49" r="0.65" fill="none" stroke="#000" stroke-width="0.55"/>
<circle cx="479.33" cy="52.14" r="0.65" fill="none" stroke="#000" stroke-width="0.55"/>
<circle cx="476.66" cy="60.33" r="0.65" fill="none" stroke="#000" stroke-width="0.55"/>
<circle cx="478.86" cy="56.36" r="0.65" fill="none" stroke="#000" stroke-width="0.55"/>
<circle cx="475.97" cy="61.97" r="0.65" fill="none" stroke="#000" stroke-width="0.55"/>
<circle cx="478.33" cy="62.11" r="0.65" fill="none" stroke="#000" stroke-width="0.55"/>
<circle cx="475.61" cy="53.90" r="0.65" fill="none" stroke="#000" stroke-width="0.55"/>
<circle cx="475.72" cy="60.41" r="0.65" fill="none" stroke="#000" stroke-width="0.55"/>
<circle cx="475.75" cy="57.21" r="0.65" fill="none" stroke="#000" stroke-width="0.55"/>
<circle cx="475.82" cy="57.98" r="0.65" fill="none" stroke="#000" stroke-width="0.55"/>
<circle cx="476.40" cy="64.38" r="0.65" fill="none" stroke="#000" stroke-width="0.55"/>
<circle cx="479.50" cy="66.69" r="0.65" fill="none" stroke="#000" stroke-width="0.55"/>
<circle cx="479.27" cy="66.75" r="0.65" fill="none" stroke="#000" stroke-width="0.55"/>
<circle cx="479.36" cy="58.26" r="0.65" fill="none" stroke="#000" stroke-width="0.55"/>
<circle cx="478.03" cy="55.89" r="0.65" fill="none" stroke="#000" stroke-width="0.55"/>
<circle cx="479.39" cy="58.59" r="0.65" fill="none" stroke="#000" stroke-width="0.55"/>
<circle cx="479.00" cy="56.40" r="0.65" fill="none" stroke="#000" stroke-width="0.55"/>
<circle cx="476.06" cy="57.54" r="0.65" fill="none" stroke="#000" stroke-width="0.55"/>
<circle cx="478.32" cy="62.23" r="0.65" fill="none" stroke="#000" stroke-width="0.55"/>
<circle cx="479.31" cy="56.96" r="0.65" fill="none" stroke="#000" stroke-width="0.55"/>
<circle cx="478.54" cy="56.24" r="0.65" fill="none" stroke="#000" stroke-width="0.55"/>
<circle cx="478.94" cy="53.29" r="0.65" fill="none" stroke="#000" stroke-width="0.55"/>
<circle cx="477.05" cy="68.22" r="0.65" fill="none" stroke="#000" stroke-width="0.55"/>
<circle cx="477.26" cy="62.44" r="0.65" fill="none" stroke="#000" stroke-width="0.55"/>
<circle cx="477.52" cy="58.42" r="0.65" fill="none" stroke="#000" stroke-width="0.55"/>
<circle cx="476.68" cy="52.20" r="0.65" fill="none" stroke="#000" stroke-width="0.55"/>
<circle cx="478.02" cy="56.15" r="0.65" fill="none" stroke="#000" stroke-width="0.55"/>
<circle cx="478.44" cy="53.55" r="0.65" fill="none" stroke="#000" stroke-width="0.55"/>
<circle cx="476.22" cy="62.98" r="0.65" fill="none" stroke="#000" stroke-width="0.55"/>
<circle cx="478.44" cy="56.22" r="0.65" fill="none" stroke="#000" stroke-width="0.55"/>
<circle cx="478.63" cy="54.74" r="0.65" fill="none" stroke="#000" stroke-width="0.55"/>
<circle cx="478.31" cy="58.68" r="0.65" fill="none" stroke="#000" stroke-width="0.55"/>
<circle cx="478.97" cy="56.85" r="0.65" fill="none" stroke="#000" stroke-width="0.55"/>
<circle cx="478.17" cy="57.60" r="0.65" fill="none" stroke="#000" stroke-width="0.55"/>
<circle cx="477.40" cy="53.27" r="0.65" fill="none" stroke="#000" stroke-width="0.55"/>
<circle cx="479.19" cy="65.16" r="0.65" fill="none" stroke="#000" stroke-width="0.55"/>
<circle cx="477.08" cy="59.75" r="0.65" fill="none" stroke="#000" stroke-width="0.55"/>
<circle cx="475.89" cy="63.06" r="0.65" fill="none" stroke="#000" stroke-width="0.55"/>
<circle cx="476.02" cy="67.69" r="0.65" fill="none" stroke="#000" stroke-width="0.55"/>
<circle cx="477.88" cy="53.23" r="0.65" fill="none" stroke="#000" stroke-width="0.55"/>
<circle cx="478.20" cy="58.03" r="0.65" fill="none" stroke="#000" stroke-width="0.55"/>
<circle cx="476.56" cy="58.26" r="0.65" fill="none" stroke="#000" stroke-width="0.55"/>
<circle cx="478.18" cy="57.07" r="0.65" fill="none" stroke="#000" stroke-width="0.55"/>
<circle cx="477.94" cy="58.63" r="0.65" fill="none" stroke="#000" stroke-width="0.55"/>
<circle cx="479.47" cy="56.36" r="0.65" fill="none" stroke="#000" stroke-width="0.55"/>
<circle cx="476.48" cy="59.13" r="0.65" fill="none" stroke="#000" stroke-width="0.55"/>
<circle cx="478.72" cy="63.34" r="0.65" fill="none" stroke="#000" stroke-width="0.55"/>
<circle cx="478.02" cy="61.00" r="0.65" fill="none" stroke="#000" stroke-width="0.55"/>
<circle cx="476.35" cy="58.11" r="0.65" fill="none" stroke="#000" stroke-width="0.55"/>
<circle cx="476.31" cy="64.33" r="0.65" fill="none" stroke="#000" stroke-width="0.55"/>
<circle cx="476.05" cy="52.54" r="0.65" fill="none" stroke="#000" stroke-width="0.55"/>
<circle cx="475.70" cy="55.65" r="0.65" fill="none" stroke="#000" stroke-width="0.55"/>
<circle cx="479.17" cy="56.64" r="0.65" fill="none" stroke="#000" stroke-width="0.55"/>
<circle cx="475.94" cy="59.92" r="0.65" fill="none" stroke="#000" stroke-width="0.55"/>
<circle cx="478.92" cy="62.22" r="0.65" fill="none" stroke="#000" stroke-width="0.55"/>
<circle cx="478.06" cy="58.71" r="0.65" fill="none" stroke="#000" stroke-width="0.55"/>
<circle cx="479.09" cy="63.76" r="0.65" fill="none" stroke="#000" stroke-width="0.55"/>
<circle cx="476.98" cy="64.80" r="0.65" fill="none" stroke="#000" stroke-width="0.55"/>
<circle cx="476.04" cy="62.94" r="0.65" fill="none" stroke="#000" stroke-width="0.55"/>
<circle cx="478.94" cy="62.06" r="0.65" fill="none" stroke="#000" stroke-width="0.55"/>
<circle cx="476.42" cy="65.66" r="0.65" fill="none" stroke="#000" stroke-width="0.55"/>
<circle cx="477.76" cy="63.60" r="0.65" fill="none" stroke="#000" stroke-width="0.55"/>
<circle cx="475.91" cy="65.87" r="0.65" fill="none" stroke="#000" stroke-width="0.55"/>
<circle cx="476.98" cy="57.85" r="0.65" fill="none" stroke="#000" stroke-width="0.55"/>
<circle cx="477.81" cy="60.94" r="0.65" fill="none" stroke="#000" stroke-width="0.55"/>
<circle cx="478.54" cy="59.19" r="0.65" fill="none" stroke="#000" stroke-width="0.55"/>
<circle cx="478.02" cy="64.65" r="0.65" fill="none" stroke="#000" stroke-width="0.55"/>
<circle cx="476.46" cy="56.55" r="0.65" fill="none" stroke="#000" stroke-width="0.55"/>
<circle cx="476.94" cy="67.44" r="0.65" fill="none" stroke="#000" stroke-width="0.55"/>
<circle cx="477.32" cy="48.29" r="0.65" fill="none" stroke="#000" stroke-width="0.55"/>
<circle cx="476.26" cy="56.84" r="0.65" fill="none" stroke="#000" stroke-width="0.55"/>
<circle cx="479.32" cy="57.88" r="0.65" fill="none" stroke="#000" stroke-width="0.55"/>
<circle cx="479.55" cy="60.60" r="0.65" fill="none" stroke="#000" stroke-width="0.55"/>
<circle cx="478.05" cy="67.70" r="0.65" fill="none" stroke="#000" stroke-width="0.55"/>
<circle cx="477.27" cy="54.68" r="0.65" fill="none" stroke="#000" stroke-width="0.55"/>
<circle cx="479.39" cy="61.49" r="0.65" fill="none" stroke="#000" stroke-width="0.55"/>
<circle cx="477.54" cy="51.03" r="0.65" fill="none" stroke="#000" stroke-width="0.55"/>
<circle cx="478.69" cy="65.14" r="0.65" fill="none" stroke="#000" stroke-width="0.55"/>
<circle cx="479.28" cy="51.48" r="0.65" fill="none" stroke="#000" stroke-width="0.55"/>
<circle cx="476.34" cy="61.87" r="0.65" fill="none" stroke="#000" stroke-width="0.55"/>
<circle cx="475.98" cy="50.01" r="0.65" fill="none" stroke="#000" stroke-width="0.55"/>
<circle cx="477.68" cy="59.94" r="0.65" fill="none" stroke="#000" stroke-width="0.55"/>
<circle cx="478.16" cy="62.76" r="0.65" fill="none" stroke="#000" stroke-width="0.55"/>
<circle cx="476.70" cy="52.71" r="0.65" fill="none" stroke="#000" stroke-width="0.55"/>
<circle cx="477.33" cy="57.62" r="0.65" fill="none" stroke="#000" stroke-width="0.55"/>
<circle cx="478.59" cy="63.18" r="0.65" fill="none" stroke="#000" stroke-width="0.55"/>
<circle cx="476.75" cy="53.70" r="0.65" fill="none" stroke="#000" stroke-width="0.55"/>
<circle cx="477.24" cy="56.56" r="0.65" fill="none" stroke="#000" stroke-width="0.55"/>
<circle cx="475.91" cy="57.23" r="0.65" fill="none" stroke="#000" stroke-width="0.55"/>
<circle cx="478.40" cy="55.33" r="0.65" fill="none" stroke="#000" stroke-width="0.55"/>
<circle cx="479.51" cy="53.57" r="0.65" fill="none" stroke="#000" stroke-width="0.55"/>
<circle cx="477.09" cy="50.94" r="0.65" fill="none" stroke="#000" stroke-width="0.55"/>
<circle cx="476.25" cy="60.43" r="0.65" fill="none" stroke="#000" stroke-width="0.55"/>
<circle cx="477.70" cy="61.10" r="0.65" fill="none" stroke="#000" stroke-width="0.55"/>
<circle cx="477.77" cy="55.07" r="0.65" fill="none" stroke="#000" stroke-width="0.55"/>
<circle cx="476.74" cy="64.51" r="0.65" fill="none" stroke="#000" stroke-width="0.55"/>
<circle cx="477.45" cy="53.08" r="0.65" fill="none" stroke="#000" stroke-width="0.55"/>
<circle cx="476.79" cy="53.65" r="0.65" fill="none" stroke="#000" stroke-width="0.55"/>
<circle cx="476.57" cy="64.26" r="0.65" fill="none" stroke="#000" stroke-width="0.55"/>
<circle cx="476.13" cy="59.14" r="0.65" fill="none" stroke="#000" stroke-width="0.55"/>
<circle cx="477.72" cy="59.90" r="0.65" fill="none" stroke="#000" stroke-width="0.55"/>
<circle cx="475.80" cy="61.78" r="0.65" fill="none" stroke="#000" stroke-width="0.55"/>
<circle cx="476.42" cy="59.90" r="0.65" fill="none" stroke="#000" stroke-width="0.55"/>
<circle cx="479.52" cy="58.76" r="0.65" fill="none" stroke="#000" stroke-width="0.55"/>
<circle cx="478.74" cy="63.95" r="0.65" fill="none" stroke="#000" stroke-width="0.55"/>
<circle cx="476.34" cy="58.25" r="0.65" fill="none" stroke="#000" stroke-width="0.55"/>
<circle cx="475.65" cy="59.49" r="0.65" fill="none" stroke="#000" stroke-width="0.55"/>
<circle cx="475.81" cy="62.78" r="0.65" fill="none" stroke="#000" stroke-width="0.55"/>
<circle cx="477.78" cy="57.79" r="0.65" fill="none" stroke="#000" stroke-width="0.55"/>
<circle cx="476.59" cy="56.37" r="0.65" fill="none" stroke="#000" stroke-width="0.55"/>
<circle cx="478.81" cy="57.35" r="0.65" fill="none" stroke="#000" stroke-width="0.55"/>
<circle cx="475.78" cy="62.15" r="0.65" fill="none" stroke="#000" stroke-width="0.55"/>
<circle cx="477.32" cy="57.76" r="0.65" fill="none" stroke="#000" stroke-width="0.55"/>
<circle cx="479.25" cy="63.67" r="0.65" fill="none" stroke="#000" stroke-width="0.55"/>
<circle cx="478.83" cy="63.81" r="0.65" fill="none" stroke="#000" stroke-width="0.55"/>
<circle cx="478.63" cy="59.31" r="0.65" fill="none" stroke="#000" stroke-width="0.55"/>
<circle cx="478.76" cy="57.11" r="0.65" fill="none" stroke="#000" stroke-width="0.55"/>
<circle cx="477.81" cy="67.15" r="0.65" fill="none" stroke="#000" stroke-width="0.55"/>
<circle cx="476.72" cy="59.78" r="0.65" fill="none" stroke="#000" stroke-width="0.55"/>
<circle cx="478.17" cy="58.97" r="0.65" fill="none" stroke="#000" stroke-width="0.55"/>
<circle cx="479.19" cy="58.68" r="0.65" fill="none" stroke="#000" stroke-width="0.55"/>
<circle cx="478.26" cy="55.48" r="0.65" fill="none" stroke="#000" stroke-width="0.55"/>
<circle cx="479.31" cy="61.93" r="0.65" fill="none" stroke="#000" stroke-width="0.55"/>
<circle cx="477.26" cy="57.14" r="0.65" fill="none" stroke="#000" stroke-width="0.55"/>
<circle cx="477.67" cy="64.53" r="0.65" fill="none" stroke="#000" stroke-width="0.55"/>
<circle cx="478.34" cy="58.09" r="0.65" fill="none" stroke="#000" stroke-width="0.55"/>
<circle cx="479.57" cy="57.03" r="0.65" fill="none" stroke="#000" stroke-width="0.55"/>
<circle cx="477.01" cy="63.41" r="0.65" fill="none" stroke="#000" stroke-width="0.55"/>
<circle cx="477.42" cy="60.58" r="0.65" fill="none" stroke="#000" stroke-width="0.55"/>
<circle cx="479.44" cy="57.86" r="0.65" fill="none" stroke="#000" stroke-width="0.55"/>
<circle cx="476.22" cy="63.65" r="0.65" fill="none" stroke="#000" stroke-width="0.55"/>
<circle cx="477.25" cy="61.34" r="0.65" fill="none" stroke="#000" stroke-width="0.55"/>
<circle cx="479.00" cy="54.72" r="0.65" fill="none" stroke="#000" stroke-width="0.55"/>
<circle cx="478.05" cy="54.85" r="0.65" fill="none" stroke="#000" stroke-width="0.55"/>
<circle cx="475.72" cy="67.82" r="0.65" fill="none" stroke="#000" stroke-width="0.55"/>
<line x1="456.50" y1="16.60" x2="463.80" y2="16.60" stroke="#444" stroke-width="0.6" />
<line x1="469.50" y1="16.60" x2="478.00" y2="16.60" stroke="#444" stroke-width="0.6" />
<line x1="456.50" y1="16.60" x2="456.50" y2="20.60" stroke="#444" stroke-width="0.6" />
<line x1="478.00" y1="16.60" x2="478.00" y2="48.30" stroke="#444" stroke-width="0.6" />
<circle cx="466.70" cy="16.60" r="0.9" fill="#ff2020" />
<line x1="448.20" y1="124.30" x2="465.30" y2="124.30" stroke="#333" stroke-width="0.7" />
<line x1="469.10" y1="124.30" x2="486.80" y2="124.30" stroke="#333" stroke-width="0.7" />
<line x1="467.20" y1="128.40" x2="467.20" y2="130.60" stroke="#4a4a4a" stroke-width="0.9" />
<text x="467.20" y="137.90" font-size="5.7" text-anchor="middle" fill="#000" stroke="#000" stroke-width="0.12" >COAD</text>
<text x="466.30" y="141.70" font-size="5.6" text-anchor="middle" fill="#000" stroke="#000" stroke-width="0.12" >(num(T)=275; num(N)=349)</text>
<defs><filter id="bl" x="-30%" y="-100%" width="160%" height="300%"><feGaussianBlur stdDeviation="0.75"/></filter><filter id="bl2" x="-30%" y="-100%" width="160%" height="300%"><feGaussianBlur stdDeviation="0.55"/></filter></defs>
<rect x="57.20" y="160.70" width="189.30" height="15.30" fill="#eeeeee" stroke="#5a5a5a" stroke-width="0.9" />
<rect x="57.20" y="176.90" width="189.30" height="15.30" fill="#e2e2e2" stroke="#5a5a5a" stroke-width="0.9" />
<rect x="57.20" y="195.30" width="189.30" height="15.60" fill="#efefef" stroke="#5a5a5a" stroke-width="0.9" />
<rect x="57.20" y="212.10" width="189.30" height="15.50" fill="#f2f2f2" stroke="#5a5a5a" stroke-width="0.9" />
<text x="0" y="0" font-size="8.7" text-anchor="end" fill="#000" stroke="#000" stroke-width="0.12" transform="translate(54.40,171.80) scale(0.9,1)">DDX27</text>
<text x="0" y="0" font-size="8.5" text-anchor="end" fill="#000" stroke="#000" stroke-width="0.12" transform="translate(54.60,186.90) scale(0.9,1)">β-tubulin</text>
<text x="0" y="0" font-size="8.7" text-anchor="end" fill="#000" stroke="#000" stroke-width="0.12" transform="translate(54.40,206.00) scale(0.9,1)">DDX27</text>
<text x="0" y="0" font-size="8.5" text-anchor="end" fill="#000" stroke="#000" stroke-width="0.12" transform="translate(54.60,223.50) scale(0.9,1)">β-tubulin</text>
<text x="69.50" y="237.20" font-size="7.6" text-anchor="middle" fill="#000" stroke="#000" stroke-width="0.12" >N</text>
<text x="88.00" y="237.20" font-size="7.6" text-anchor="middle" fill="#000" stroke="#000" stroke-width="0.12" >T</text>
<text x="106.50" y="237.20" font-size="7.6" text-anchor="middle" fill="#000" stroke="#000" stroke-width="0.12" >N</text>
<text x="125.00" y="237.20" font-size="7.6" text-anchor="middle" fill="#000" stroke="#000" stroke-width="0.12" >T</text>
<text x="143.50" y="237.20" font-size="7.6" text-anchor="middle" fill="#000" stroke="#000" stroke-width="0.12" >N</text>
<text x="162.00" y="237.20" font-size="7.6" text-anchor="middle" fill="#000" stroke="#000" stroke-width="0.12" >T</text>
<text x="180.50" y="237.20" font-size="7.6" text-anchor="middle" fill="#000" stroke="#000" stroke-width="0.12" >N</text>
<text x="199.00" y="237.20" font-size="7.6" text-anchor="middle" fill="#000" stroke="#000" stroke-width="0.12" >T</text>
<text x="217.50" y="237.20" font-size="7.6" text-anchor="middle" fill="#000" stroke="#000" stroke-width="0.12" >N</text>
<text x="236.00" y="237.20" font-size="7.6" text-anchor="middle" fill="#000" stroke="#000" stroke-width="0.12" >T</text>
<ellipse cx="69.50" cy="168.60" rx="7.50" ry="1.68" fill="rgb(124,124,124)" filter="url(#bl)"/>
<ellipse cx="69.50" cy="202.50" rx="7.50" ry="1.64" fill="rgb(130,130,130)" filter="url(#bl)"/>
<rect x="62.10" y="183.00" width="14.80" height="4.00" rx="2.00" fill="#0a0a0a" filter="url(#bl2)"/>
<rect x="62.10" y="216.90" width="14.80" height="4.80" rx="2.40" fill="#0a0a0a" filter="url(#bl2)"/>
<ellipse cx="88.00" cy="168.60" rx="7.50" ry="2.12" fill="rgb(56,56,56)" filter="url(#bl)"/>
<rect x="82.95" y="167.08" width="11.70" height="3.04" rx="1.52" fill="rgb(32,32,32)" filter="url(#bl2)"/>
<ellipse cx="88.00" cy="202.50" rx="7.50" ry="2.08" fill="rgb(62,62,62)" filter="url(#bl)"/>
<rect x="82.95" y="201.02" width="11.70" height="2.96" rx="1.48" fill="rgb(43,43,43)" filter="url(#bl2)"/>
<rect x="80.60" y="183.00" width="14.80" height="4.00" rx="2.00" fill="#0a0a0a" filter="url(#bl2)"/>
<rect x="80.60" y="216.90" width="14.80" height="4.80" rx="2.40" fill="#0a0a0a" filter="url(#bl2)"/>
<ellipse cx="106.50" cy="168.60" rx="7.50" ry="1.76" fill="rgb(111,111,111)" filter="url(#bl)"/>
<ellipse cx="106.50" cy="202.50" rx="7.50" ry="1.88" fill="rgb(93,93,93)" filter="url(#bl)"/>
<rect x="101.45" y="201.22" width="11.70" height="2.56" rx="1.28" fill="rgb(100,100,100)" filter="url(#bl2)"/>
<rect x="99.10" y="183.00" width="14.80" height="4.00" rx="2.00" fill="#0a0a0a" filter="url(#bl2)"/>
<rect x="99.10" y="216.90" width="14.80" height="4.80" rx="2.40" fill="#0a0a0a" filter="url(#bl2)"/>
<ellipse cx="125.00" cy="168.60" rx="7.50" ry="2.08" fill="rgb(62,62,62)" filter="url(#bl)"/>
<rect x="119.95" y="167.12" width="11.70" height="2.96" rx="1.48" fill="rgb(43,43,43)" filter="url(#bl2)"/>
<ellipse cx="125.00" cy="202.50" rx="7.50" ry="2.00" fill="rgb(74,74,74)" filter="url(#bl)"/>
<rect x="119.95" y="201.10" width="11.70" height="2.80" rx="1.40" fill="rgb(66,66,66)" filter="url(#bl2)"/>
<rect x="117.60" y="183.00" width="14.80" height="4.00" rx="2.00" fill="#0a0a0a" filter="url(#bl2)"/>
<rect x="117.60" y="216.90" width="14.80" height="4.80" rx="2.40" fill="#0a0a0a" filter="url(#bl2)"/>
<ellipse cx="143.50" cy="168.60" rx="7.50" ry="1.68" fill="rgb(124,124,124)" filter="url(#bl)"/>
<ellipse cx="143.50" cy="202.50" rx="7.50" ry="1.76" fill="rgb(111,111,111)" filter="url(#bl)"/>
<rect x="136.10" y="183.00" width="14.80" height="4.00" rx="2.00" fill="#0a0a0a" filter="url(#bl2)"/>
<rect x="136.10" y="216.90" width="14.80" height="4.80" rx="2.40" fill="#0a0a0a" filter="url(#bl2)"/>
<ellipse cx="162.00" cy="168.60" rx="7.50" ry="2.12" fill="rgb(56,56,56)" filter="url(#bl)"/>
<rect x="156.95" y="167.08" width="11.70" height="3.04" rx="1.52" fill="rgb(32,32,32)" filter="url(#bl2)"/>
<ellipse cx="162.00" cy="202.50" rx="7.50" ry="2.00" fill="rgb(74,74,74)" filter="url(#bl)"/>
<rect x="156.95" y="201.10" width="11.70" height="2.80" rx="1.40" fill="rgb(66,66,66)" filter="url(#bl2)"/>
<rect x="154.60" y="183.00" width="14.80" height="4.00" rx="2.00" fill="#0a0a0a" filter="url(#bl2)"/>
<rect x="154.60" y="216.90" width="14.80" height="4.80" rx="2.40" fill="#0a0a0a" filter="url(#bl2)"/>
<ellipse cx="180.50" cy="168.60" rx="7.50" ry="1.72" fill="rgb(118,118,118)" filter="url(#bl)"/>
<ellipse cx="180.50" cy="202.50" rx="7.50" ry="1.76" fill="rgb(111,111,111)" filter="url(#bl)"/>
<rect x="173.10" y="183.00" width="14.80" height="4.00" rx="2.00" fill="#0a0a0a" filter="url(#bl2)"/>
<rect x="173.10" y="216.90" width="14.80" height="4.80" rx="2.40" fill="#0a0a0a" filter="url(#bl2)"/>
<ellipse cx="199.00" cy="168.60" rx="7.50" ry="2.12" fill="rgb(56,56,56)" filter="url(#bl)"/>
<rect x="193.95" y="167.08" width="11.70" height="3.04" rx="1.52" fill="rgb(32,32,32)" filter="url(#bl2)"/>
<ellipse cx="199.00" cy="202.50" rx="7.50" ry="2.12" fill="rgb(56,56,56)" filter="url(#bl)"/>
<rect x="193.95" y="200.98" width="11.70" height="3.04" rx="1.52" fill="rgb(32,32,32)" filter="url(#bl2)"/>
<rect x="191.60" y="183.00" width="14.80" height="4.00" rx="2.00" fill="#0a0a0a" filter="url(#bl2)"/>
<rect x="191.60" y="216.90" width="14.80" height="4.80" rx="2.40" fill="#0a0a0a" filter="url(#bl2)"/>
<ellipse cx="217.50" cy="168.60" rx="7.50" ry="1.68" fill="rgb(124,124,124)" filter="url(#bl)"/>
<ellipse cx="217.50" cy="202.50" rx="7.50" ry="1.84" fill="rgb(99,99,99)" filter="url(#bl)"/>
<rect x="212.45" y="201.26" width="11.70" height="2.48" rx="1.24" fill="rgb(111,111,111)" filter="url(#bl2)"/>
<rect x="210.10" y="183.00" width="14.80" height="4.00" rx="2.00" fill="#0a0a0a" filter="url(#bl2)"/>
<rect x="210.10" y="216.90" width="14.80" height="4.80" rx="2.40" fill="#0a0a0a" filter="url(#bl2)"/>
<ellipse cx="236.00" cy="168.60" rx="7.50" ry="2.12" fill="rgb(56,56,56)" filter="url(#bl)"/>
<rect x="230.95" y="167.08" width="11.70" height="3.04" rx="1.52" fill="rgb(32,32,32)" filter="url(#bl2)"/>
<ellipse cx="236.00" cy="202.50" rx="7.50" ry="2.20" fill="rgb(43,43,43)" filter="url(#bl)"/>
<rect x="230.95" y="200.90" width="11.70" height="3.20" rx="1.60" fill="rgb(10,10,10)" filter="url(#bl2)"/>
<rect x="229.05" y="199.90" width="14.50" height="5.40" rx="2.70" fill="rgb(10,10,10)" filter="url(#bl2)"/>
<rect x="228.60" y="183.00" width="14.80" height="4.00" rx="2.00" fill="#0a0a0a" filter="url(#bl2)"/>
<rect x="228.60" y="216.90" width="14.80" height="4.80" rx="2.40" fill="#0a0a0a" filter="url(#bl2)"/>
<rect x="233.80" y="306.10" width="137.00" height="13.00" fill="#efefef" stroke="#5a5a5a" stroke-width="0.9" />
<rect x="233.80" y="320.30" width="137.00" height="13.20" fill="#e6e6e6" stroke="#5a5a5a" stroke-width="0.9" />
<text x="0" y="0" font-size="8.6" text-anchor="end" fill="#000"  transform="translate(231.30,315.70) scale(0.9,1)">DDX27</text>
<text x="0" y="0" font-size="8.4" text-anchor="end" fill="#000"  transform="translate(231.30,327.90) scale(0.9,1)">β-tubulin</text>
<ellipse cx="243.60" cy="312.40" rx="6.50" ry="1.41" fill="rgb(111,111,111)" filter="url(#bl)"/>
<rect x="237.10" y="323.80" width="13.00" height="5.00" rx="2.50" fill="#0a0a0a" filter="url(#bl2)"/>
<ellipse cx="260.20" cy="312.40" rx="6.50" ry="1.63" fill="rgb(68,68,68)" filter="url(#bl)"/>
<rect x="255.93" y="311.25" width="10.14" height="2.30" rx="1.15" fill="rgb(55,55,55)" filter="url(#bl2)"/>
<rect x="253.70" y="323.80" width="13.00" height="5.00" rx="2.50" fill="#0a0a0a" filter="url(#bl2)"/>
<ellipse cx="276.80" cy="312.40" rx="6.50" ry="1.60" fill="rgb(74,74,74)" filter="url(#bl)"/>
<rect x="272.53" y="311.28" width="10.14" height="2.24" rx="1.12" fill="rgb(66,66,66)" filter="url(#bl2)"/>
<rect x="270.30" y="323.80" width="13.00" height="5.00" rx="2.50" fill="#0a0a0a" filter="url(#bl2)"/>
<ellipse cx="293.40" cy="312.40" rx="6.50" ry="1.63" fill="rgb(68,68,68)" filter="url(#bl)"/>
<rect x="289.13" y="311.25" width="10.14" height="2.30" rx="1.15" fill="rgb(55,55,55)" filter="url(#bl2)"/>
<rect x="286.90" y="323.80" width="13.00" height="5.00" rx="2.50" fill="#0a0a0a" filter="url(#bl2)"/>
<ellipse cx="310.00" cy="312.40" rx="6.50" ry="1.63" fill="rgb(68,68,68)" filter="url(#bl)"/>
<rect x="305.73" y="311.25" width="10.14" height="2.30" rx="1.15" fill="rgb(55,55,55)" filter="url(#bl2)"/>
<rect x="303.50" y="323.80" width="13.00" height="5.00" rx="2.50" fill="#0a0a0a" filter="url(#bl2)"/>
<ellipse cx="326.60" cy="312.40" rx="6.50" ry="1.70" fill="rgb(56,56,56)" filter="url(#bl)"/>
<rect x="322.33" y="311.18" width="10.14" height="2.43" rx="1.22" fill="rgb(32,32,32)" filter="url(#bl2)"/>
<rect x="320.10" y="323.80" width="13.00" height="5.00" rx="2.50" fill="#0a0a0a" filter="url(#bl2)"/>
<ellipse cx="343.20" cy="312.40" rx="6.50" ry="1.54" fill="rgb(87,87,87)" filter="url(#bl)"/>
<rect x="338.93" y="311.34" width="10.14" height="2.11" rx="1.06" fill="rgb(88,88,88)" filter="url(#bl2)"/>
<rect x="336.70" y="323.80" width="13.00" height="5.00" rx="2.50" fill="#0a0a0a" filter="url(#bl2)"/>
<ellipse cx="359.80" cy="312.40" rx="6.50" ry="1.66" fill="rgb(62,62,62)" filter="url(#bl)"/>
<rect x="355.53" y="311.22" width="10.14" height="2.37" rx="1.18" fill="rgb(43,43,43)" filter="url(#bl2)"/>
<rect x="353.30" y="323.80" width="13.00" height="5.00" rx="2.50" fill="#0a0a0a" filter="url(#bl2)"/>
<line x1="320.80" y1="150.60" x2="320.80" y2="239.80" stroke="#707070" stroke-width="1.1" />
<line x1="320.80" y1="239.30" x2="453.20" y2="239.30" stroke="#4a4a4a" stroke-width="0.9" />
<line x1="317.80" y1="239.30" x2="320.80" y2="239.30" stroke="#707070" stroke-width="0.8" />
<text x="317.30" y="241.70" font-size="6.9" text-anchor="end" fill="#000" stroke="#000" stroke-width="0.12" >0.0</text>
<line x1="317.80" y1="209.90" x2="320.80" y2="209.90" stroke="#707070" stroke-width="0.8" />
<text x="317.30" y="212.30" font-size="6.9" text-anchor="end" fill="#000" stroke="#000" stroke-width="0.12" >0.5</text>
<line x1="317.80" y1="180.50" x2="320.80" y2="180.50" stroke="#707070" stroke-width="0.8" />
<text x="317.30" y="182.90" font-size="6.9" text-anchor="end" fill="#000" stroke="#000" stroke-width="0.12" >1.0</text>
<line x1="317.80" y1="151.10" x2="320.80" y2="151.10" stroke="#707070" stroke-width="0.8" />
<text x="317.30" y="153.50" font-size="6.9" text-anchor="end" fill="#000" stroke="#000" stroke-width="0.12" >1.5</text>
<line x1="353.50" y1="239.30" x2="353.50" y2="241.30" stroke="#707070" stroke-width="0.8" />
<line x1="420.00" y1="239.30" x2="420.00" y2="241.30" stroke="#707070" stroke-width="0.8" />
<text x="353.50" y="250.30" font-size="7.8" text-anchor="middle" fill="#000" stroke="#000" stroke-width="0.12" >N</text>
<text x="420.00" y="250.30" font-size="7.8" text-anchor="middle" fill="#000" stroke="#000" stroke-width="0.12" >T</text>
<text x="0" y="0" font-size="7.9" text-anchor="middle" fill="#000" stroke="#000" stroke-width="0.12" transform="translate(291.00,198.60) rotate(-90)">Relative protein level</text>
<text x="0" y="0" font-size="7.9" text-anchor="middle" fill="#000" stroke="#000" stroke-width="0.12" transform="translate(300.50,197.30) rotate(-90)">of DDX27</text>
<line x1="355.00" y1="173.30" x2="420.00" y2="173.30" stroke="#3a3a3a" stroke-width="0.95" />
<circle cx="383.90" cy="167.70" r="1.12" fill="#111" />
<circle cx="387.30" cy="167.70" r="1.12" fill="#111" />
<circle cx="390.70" cy="167.70" r="1.12" fill="#111" />
<line x1="331.80" y1="212.20" x2="376.00" y2="212.20" stroke="#444" stroke-width="1.0" />
<line x1="342.50" y1="207.00" x2="365.30" y2="207.00" stroke="#3a3aff" stroke-width="0.9" />
<line x1="342.50" y1="217.40" x2="365.30" y2="217.40" stroke="#3a3aff" stroke-width="0.9" />
<circle cx="349.80" cy="206.80" r="1.65" fill="#0a0aff" />
<circle cx="349.80" cy="209.40" r="1.65" fill="#0a0aff" />
<circle cx="353.60" cy="207.10" r="1.65" fill="#0a0aff" />
<circle cx="357.80" cy="205.20" r="1.65" fill="#0a0aff" />
<circle cx="357.80" cy="210.60" r="1.65" fill="#0a0aff" />
<circle cx="353.60" cy="211.70" r="1.65" fill="#0a0aff" />
<circle cx="349.80" cy="214.60" r="1.65" fill="#0a0aff" />
<circle cx="353.60" cy="215.50" r="1.65" fill="#0a0aff" />
<circle cx="357.80" cy="218.20" r="1.65" fill="#0a0aff" />
<circle cx="353.60" cy="221.20" r="1.65" fill="#0a0aff" />
<line x1="397.90" y1="194.40" x2="442.00" y2="194.40" stroke="#444" stroke-width="1.0" />
<line x1="408.60" y1="186.10" x2="431.40" y2="186.10" stroke="#ff5050" stroke-width="0.9" />
<line x1="408.60" y1="203.00" x2="431.40" y2="203.00" stroke="#ff5050" stroke-width="0.9" />
<rect x="414.30" y="181.30" width="3.20" height="3.20" fill="#ff0a0a" stroke="none" stroke-width="0.8" />
<rect x="418.30" y="183.10" width="3.20" height="3.20" fill="#ff0a0a" stroke="none" stroke-width="0.8" />
<rect x="422.50" y="181.90" width="3.20" height="3.20" fill="#ff0a0a" stroke="none" stroke-width="0.8" />
<rect x="418.30" y="188.40" width="3.20" height="3.20" fill="#ff0a0a" stroke="none" stroke-width="0.8" />
<rect x="418.30" y="195.40" width="3.20" height="3.20" fill="#ff0a0a" stroke="none" stroke-width="0.8" />
<rect x="422.50" y="194.60" width="3.20" height="3.20" fill="#ff0a0a" stroke="none" stroke-width="0.8" />
<rect x="414.30" y="200.10" width="3.20" height="3.20" fill="#ff0a0a" stroke="none" stroke-width="0.8" />
<rect x="418.30" y="199.60" width="3.20" height="3.20" fill="#ff0a0a" stroke="none" stroke-width="0.8" />
<rect x="422.50" y="200.70" width="3.20" height="3.20" fill="#ff0a0a" stroke="none" stroke-width="0.8" />
<rect x="418.30" y="203.70" width="3.20" height="3.20" fill="#ff0a0a" stroke="none" stroke-width="0.8" />
<line x1="46.00" y1="273.10" x2="46.00" y2="356.60" stroke="#707070" stroke-width="1.1" />
<line x1="46.00" y1="356.10" x2="170.00" y2="356.10" stroke="#4a4a4a" stroke-width="0.9" />
<line x1="44.00" y1="356.10" x2="46.00" y2="356.10" stroke="#707070" stroke-width="0.8" />
<text x="43.50" y="358.50" font-size="6.9" text-anchor="end" fill="#000" stroke="#000" stroke-width="0.12" >0</text>
<line x1="44.00" y1="328.60" x2="46.00" y2="328.60" stroke="#707070" stroke-width="0.8" />
<text x="43.50" y="331.00" font-size="6.9" text-anchor="end" fill="#000" stroke="#000" stroke-width="0.12" >1</text>
<line x1="44.00" y1="301.10" x2="46.00" y2="301.10" stroke="#707070" stroke-width="0.8" />
<text x="43.50" y="303.50" font-size="6.9" text-anchor="end" fill="#000" stroke="#000" stroke-width="0.12" >2</text>
<line x1="44.00" y1="273.60" x2="46.00" y2="273.60" stroke="#707070" stroke-width="0.8" />
<text x="43.50" y="276.00" font-size="6.9" text-anchor="end" fill="#000" stroke="#000" stroke-width="0.12" >3</text>
<line x1="53.85" y1="328.70" x2="53.85" y2="322.50" stroke="#333" stroke-width="0.8" />
<line x1="51.25" y1="322.50" x2="56.45" y2="322.50" stroke="#333" stroke-width="0.8" />
<rect x="48.60" y="328.70" width="10.50" height="27.40" fill="#ffffff" stroke="#444" stroke-width="0.8" />
<line x1="53.85" y1="356.10" x2="53.85" y2="357.70" stroke="#707070" stroke-width="0.7" />
<text x="0" y="0" font-size="8.2" text-anchor="end" fill="#000" stroke="#000" stroke-width="0.12" transform="translate(55.45,365.60) rotate(-45)">NCM-460</text>
<line x1="69.30" y1="307.30" x2="69.30" y2="301.20" stroke="#333" stroke-width="0.8" />
<line x1="66.70" y1="301.20" x2="71.90" y2="301.20" stroke="#333" stroke-width="0.8" />
<rect x="64.05" y="307.30" width="10.50" height="48.80" fill="#d4d4d4" stroke="#444" stroke-width="0.8" />
<line x1="69.30" y1="356.10" x2="69.30" y2="357.70" stroke="#707070" stroke-width="0.7" />
<circle cx="69.30" cy="295.70" r="1.12" fill="#111" />
<text x="0" y="0" font-size="8.2" text-anchor="end" fill="#000" stroke="#000" stroke-width="0.12" transform="translate(70.90,365.60) rotate(-45)">CoLo205</text>
<line x1="84.75" y1="307.30" x2="84.75" y2="300.30" stroke="#333" stroke-width="0.8" />
<line x1="82.15" y1="300.30" x2="87.35" y2="300.30" stroke="#333" stroke-width="0.8" />
<rect x="79.50" y="307.30" width="10.50" height="48.80" fill="#a3a3a3" stroke="#444" stroke-width="0.8" />
<line x1="84.75" y1="356.10" x2="84.75" y2="357.70" stroke="#707070" stroke-width="0.7" />
<circle cx="84.75" cy="294.20" r="1.12" fill="#111" />
<text x="0" y="0" font-size="8.2" text-anchor="end" fill="#000" stroke="#000" stroke-width="0.12" transform="translate(86.35,365.60) rotate(-45)">DLD-1</text>
<line x1="100.20" y1="291.70" x2="100.20" y2="283.20" stroke="#333" stroke-width="0.8" />
<line x1="97.60" y1="283.20" x2="102.80" y2="283.20" stroke="#333" stroke-width="0.8" />
<rect x="94.95" y="291.70" width="10.50" height="64.40" fill="#8a8a8a" stroke="#444" stroke-width="0.8" />
<line x1="100.20" y1="356.10" x2="100.20" y2="357.70" stroke="#707070" stroke-width="0.7" />
<circle cx="96.75" cy="277.50" r="1.12" fill="#111" />
<circle cx="100.20" cy="277.50" r="1.12" fill="#111" />
<circle cx="103.65" cy="277.50" r="1.12" fill="#111" />
<text x="0" y="0" font-size="8.2" text-anchor="end" fill="#000" stroke="#000" stroke-width="0.12" transform="translate(101.80,365.60) rotate(-45)">HT-29</text>
<line x1="115.65" y1="289.40" x2="115.65" y2="283.20" stroke="#333" stroke-width="0.8" />
<line x1="113.05" y1="283.20" x2="118.25" y2="283.20" stroke="#333" stroke-width="0.8" />
<rect x="110.40" y="289.40" width="10.50" height="66.70" fill="#6a6a6a" stroke="#444" stroke-width="0.8" />
<line x1="115.65" y1="356.10" x2="115.65" y2="357.70" stroke="#707070" stroke-width="0.7" />
<circle cx="112.20" cy="278.80" r="1.12" fill="#111" />
<circle cx="115.65" cy="278.80" r="1.12" fill="#111" />
<circle cx="119.10" cy="278.80" r="1.12" fill="#111" />
<text x="0" y="0" font-size="8.2" text-anchor="end" fill="#000" stroke="#000" stroke-width="0.12" transform="translate(117.25,365.60) rotate(-45)">CoLo320</text>
<line x1="131.10" y1="292.80" x2="131.10" y2="286.00" stroke="#333" stroke-width="0.8" />
<line x1="128.50" y1="286.00" x2="133.70" y2="286.00" stroke="#333" stroke-width="0.8" />
<rect x="125.85" y="292.80" width="10.50" height="63.30" fill="#4d4d4d" stroke="#444" stroke-width="0.8" />
<line x1="131.10" y1="356.10" x2="131.10" y2="357.70" stroke="#707070" stroke-width="0.7" />
<circle cx="127.65" cy="280.30" r="1.12" fill="#111" />
<circle cx="131.10" cy="280.30" r="1.12" fill="#111" />
<circle cx="134.55" cy="280.30" r="1.12" fill="#111" />
<text x="0" y="0" font-size="8.2" text-anchor="end" fill="#000" stroke="#000" stroke-width="0.12" transform="translate(132.70,365.60) rotate(-45)">RKO</text>
<line x1="146.55" y1="300.80" x2="146.55" y2="292.10" stroke="#333" stroke-width="0.8" />
<line x1="143.95" y1="292.10" x2="149.15" y2="292.10" stroke="#333" stroke-width="0.8" />
<rect x="141.30" y="300.80" width="10.50" height="55.30" fill="#2c2c2c" stroke="#444" stroke-width="0.8" />
<line x1="146.55" y1="356.10" x2="146.55" y2="357.70" stroke="#707070" stroke-width="0.7" />
<circle cx="144.82" cy="286.40" r="1.12" fill="#111" />
<circle cx="148.27" cy="286.40" r="1.12" fill="#111" />
<text x="0" y="0" font-size="8.2" text-anchor="end" fill="#000" stroke="#000" stroke-width="0.12" transform="translate(148.15,365.60) rotate(-45)">NCI-H716</text>
<line x1="162.00" y1="290.00" x2="162.00" y2="283.20" stroke="#333" stroke-width="0.8" />
<line x1="159.40" y1="283.20" x2="164.60" y2="283.20" stroke="#333" stroke-width="0.8" />
<rect x="156.75" y="290.00" width="10.50" height="66.10" fill="#000000" stroke="#444" stroke-width="0.8" />
<line x1="162.00" y1="356.10" x2="162.00" y2="357.70" stroke="#707070" stroke-width="0.7" />
<circle cx="158.55" cy="278.50" r="1.12" fill="#111" />
<circle cx="162.00" cy="278.50" r="1.12" fill="#111" />
<circle cx="165.45" cy="278.50" r="1.12" fill="#111" />
<text x="0" y="0" font-size="8.2" text-anchor="end" fill="#000" stroke="#000" stroke-width="0.12" transform="translate(163.60,365.60) rotate(-45)">Caco-2</text>
<text x="0" y="0" font-size="7.9" text-anchor="middle" fill="#000" stroke="#000" stroke-width="0.12" transform="translate(19.80,315.10) rotate(-90)">Relative expression of</text>
<text x="0" y="0" font-size="7.9" text-anchor="middle" fill="#000" stroke="#000" stroke-width="0.12" transform="translate(28.90,316.30) rotate(-90)">circ_RNF13</text>
<line x1="420.90" y1="273.44" x2="420.90" y2="356.20" stroke="#707070" stroke-width="1.1" />
<line x1="420.90" y1="355.70" x2="544.50" y2="355.70" stroke="#4a4a4a" stroke-width="0.9" />
<line x1="418.90" y1="355.70" x2="420.90" y2="355.70" stroke="#707070" stroke-width="0.8" />
<text x="418.40" y="358.10" font-size="6.9" text-anchor="end" fill="#000" stroke="#000" stroke-width="0.12" >0.0</text>
<line x1="418.90" y1="335.26" x2="420.90" y2="335.26" stroke="#707070" stroke-width="0.8" />
<text x="418.40" y="337.66" font-size="6.9" text-anchor="end" fill="#000" stroke="#000" stroke-width="0.12" >0.2</text>
<line x1="418.90" y1="314.82" x2="420.90" y2="314.82" stroke="#707070" stroke-width="0.8" />
<text x="418.40" y="317.22" font-size="6.9" text-anchor="end" fill="#000" stroke="#000" stroke-width="0.12" >0.4</text>
<line x1="418.90" y1="294.38" x2="420.90" y2="294.38" stroke="#707070" stroke-width="0.8" />
<text x="418.40" y="296.78" font-size="6.9" text-anchor="end" fill="#000" stroke="#000" stroke-width="0.12" >0.6</text>
<line x1="418.90" y1="273.94" x2="420.90" y2="273.94" stroke="#707070" stroke-width="0.8" />
<text x="418.40" y="276.34" font-size="6.9" text-anchor="end" fill="#000" stroke="#000" stroke-width="0.12" >0.8</text>
<line x1="428.50" y1="328.30" x2="428.50" y2="322.00" stroke="#333" stroke-width="0.8" />
<line x1="425.90" y1="322.00" x2="431.10" y2="322.00" stroke="#333" stroke-width="0.8" />
<rect x="423.30" y="328.30" width="10.40" height="27.40" fill="#ffffff" stroke="#444" stroke-width="0.8" />
<line x1="428.50" y1="355.70" x2="428.50" y2="357.30" stroke="#707070" stroke-width="0.7" />
<text x="0" y="0" font-size="8.2" text-anchor="end" fill="#000" stroke="#000" stroke-width="0.12" transform="translate(430.10,365.00) rotate(-45)">NCM-460</text>
<line x1="443.99" y1="311.20" x2="443.99" y2="303.00" stroke="#333" stroke-width="0.8" />
<line x1="441.39" y1="303.00" x2="446.59" y2="303.00" stroke="#333" stroke-width="0.8" />
<rect x="438.79" y="311.20" width="10.40" height="44.50" fill="#d4d4d4" stroke="#444" stroke-width="0.8" />
<line x1="443.99" y1="355.70" x2="443.99" y2="357.30" stroke="#707070" stroke-width="0.7" />
<text x="0" y="0" font-size="8.2" text-anchor="end" fill="#000" stroke="#000" stroke-width="0.12" transform="translate(445.59,365.00) rotate(-45)">CoLo205</text>
<line x1="459.48" y1="307.10" x2="459.48" y2="299.40" stroke="#333" stroke-width="0.8" />
<line x1="456.88" y1="299.40" x2="462.08" y2="299.40" stroke="#333" stroke-width="0.8" />
<rect x="454.28" y="307.10" width="10.40" height="48.60" fill="#a3a3a3" stroke="#444" stroke-width="0.8" />
<line x1="459.48" y1="355.70" x2="459.48" y2="357.30" stroke="#707070" stroke-width="0.7" />
<text x="0" y="0" font-size="8.2" text-anchor="end" fill="#000" stroke="#000" stroke-width="0.12" transform="translate(461.08,365.00) rotate(-45)">DLD-1</text>
<line x1="474.97" y1="289.80" x2="474.97" y2="282.30" stroke="#333" stroke-width="0.8" />
<line x1="472.37" y1="282.30" x2="477.57" y2="282.30" stroke="#333" stroke-width="0.8" />
<rect x="469.77" y="289.80" width="10.40" height="65.90" fill="#8a8a8a" stroke="#444" stroke-width="0.8" />
<line x1="474.97" y1="355.70" x2="474.97" y2="357.30" stroke="#707070" stroke-width="0.7" />
<circle cx="471.52" cy="275.80" r="1.12" fill="#111" />
<circle cx="474.97" cy="275.80" r="1.12" fill="#111" />
<circle cx="478.42" cy="275.80" r="1.12" fill="#111" />
<text x="0" y="0" font-size="8.2" text-anchor="end" fill="#000" stroke="#000" stroke-width="0.12" transform="translate(476.57,365.00) rotate(-45)">HT-29</text>
<line x1="490.46" y1="290.30" x2="490.46" y2="283.00" stroke="#333" stroke-width="0.8" />
<line x1="487.86" y1="283.00" x2="493.06" y2="283.00" stroke="#333" stroke-width="0.8" />
<rect x="485.26" y="290.30" width="10.40" height="65.40" fill="#6a6a6a" stroke="#444" stroke-width="0.8" />
<line x1="490.46" y1="355.70" x2="490.46" y2="357.30" stroke="#707070" stroke-width="0.7" />
<circle cx="487.01" cy="277.30" r="1.12" fill="#111" />
<circle cx="490.46" cy="277.30" r="1.12" fill="#111" />
<circle cx="493.91" cy="277.30" r="1.12" fill="#111" />
<text x="0" y="0" font-size="8.2" text-anchor="end" fill="#000" stroke="#000" stroke-width="0.12" transform="translate(492.06,365.00) rotate(-45)">CoLo320</text>
<line x1="505.95" y1="286.00" x2="505.95" y2="278.20" stroke="#333" stroke-width="0.8" />
<line x1="503.35" y1="278.20" x2="508.55" y2="278.20" stroke="#333" stroke-width="0.8" />
<rect x="500.75" y="286.00" width="10.40" height="69.70" fill="#4d4d4d" stroke="#444" stroke-width="0.8" />
<line x1="505.95" y1="355.70" x2="505.95" y2="357.30" stroke="#707070" stroke-width="0.7" />
<circle cx="502.50" cy="273.60" r="1.12" fill="#111" />
<circle cx="505.95" cy="273.60" r="1.12" fill="#111" />
<circle cx="509.40" cy="273.60" r="1.12" fill="#111" />
<text x="0" y="0" font-size="8.2" text-anchor="end" fill="#000" stroke="#000" stroke-width="0.12" transform="translate(507.55,365.00) rotate(-45)">RKO</text>
<line x1="521.44" y1="299.90" x2="521.44" y2="291.50" stroke="#333" stroke-width="0.8" />
<line x1="518.84" y1="291.50" x2="524.04" y2="291.50" stroke="#333" stroke-width="0.8" />
<rect x="516.24" y="299.90" width="10.40" height="55.80" fill="#2c2c2c" stroke="#444" stroke-width="0.8" />
<line x1="521.44" y1="355.70" x2="521.44" y2="357.30" stroke="#707070" stroke-width="0.7" />
<circle cx="519.72" cy="286.50" r="1.12" fill="#111" />
<circle cx="523.17" cy="286.50" r="1.12" fill="#111" />
<text x="0" y="0" font-size="8.2" text-anchor="end" fill="#000" stroke="#000" stroke-width="0.12" transform="translate(523.04,365.00) rotate(-45)">NCI-H716</text>
<line x1="536.93" y1="290.80" x2="536.93" y2="281.90" stroke="#333" stroke-width="0.8" />
<line x1="534.33" y1="281.90" x2="539.53" y2="281.90" stroke="#333" stroke-width="0.8" />
<rect x="531.73" y="290.80" width="10.40" height="64.90" fill="#000000" stroke="#444" stroke-width="0.8" />
<line x1="536.93" y1="355.70" x2="536.93" y2="357.30" stroke="#707070" stroke-width="0.7" />
<circle cx="533.48" cy="277.30" r="1.12" fill="#111" />
<circle cx="536.93" cy="277.30" r="1.12" fill="#111" />
<circle cx="540.38" cy="277.30" r="1.12" fill="#111" />
<text x="0" y="0" font-size="8.2" text-anchor="end" fill="#000" stroke="#000" stroke-width="0.12" transform="translate(538.53,365.00) rotate(-45)">Caco-2</text>
<text x="0" y="0" font-size="7.9" text-anchor="middle" fill="#000" stroke="#000" stroke-width="0.12" transform="translate(397.10,315.60) rotate(-90)">Relative protein level</text>
<text x="0" y="0" font-size="7.9" text-anchor="middle" fill="#000" stroke="#000" stroke-width="0.12" transform="translate(406.80,316.70) rotate(-90)">of DDX27</text>
<text x="0" y="0" font-size="7.9" text-anchor="end" fill="#000" stroke="#000" stroke-width="0.12" transform="translate(249.20,342.50) rotate(-45)">NCM-460</text>
<text x="0" y="0" font-size="7.9" text-anchor="end" fill="#000" stroke="#000" stroke-width="0.12" transform="translate(264.67,342.50) rotate(-45)">CoLo205</text>
<text x="0" y="0" font-size="7.9" text-anchor="end" fill="#000" stroke="#000" stroke-width="0.12" transform="translate(280.14,342.50) rotate(-45)">DLD-1</text>
<text x="0" y="0" font-size="7.9" text-anchor="end" fill="#000" stroke="#000" stroke-width="0.12" transform="translate(295.61,342.50) rotate(-45)">HT-29</text>
<text x="0" y="0" font-size="7.9" text-anchor="end" fill="#000" stroke="#000" stroke-width="0.12" transform="translate(311.08,342.50) rotate(-45)">CoLo320</text>
<text x="0" y="0" font-size="7.9" text-anchor="end" fill="#000" stroke="#000" stroke-width="0.12" transform="translate(326.55,342.50) rotate(-45)">RKO</text>
<text x="0" y="0" font-size="7.9" text-anchor="end" fill="#000" stroke="#000" stroke-width="0.12" transform="translate(342.02,342.50) rotate(-45)">NCI-H716</text>
<text x="0" y="0" font-size="7.9" text-anchor="end" fill="#000" stroke="#000" stroke-width="0.12" transform="translate(357.49,342.50) rotate(-45)">Caco-2</text>
</svg></body></html>
